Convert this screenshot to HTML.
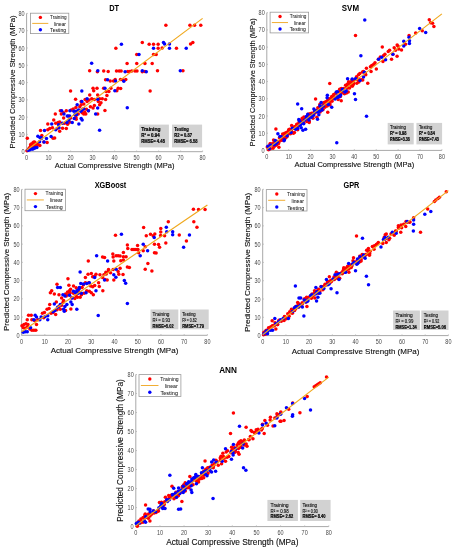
<!DOCTYPE html>
<html><head><meta charset="utf-8"><style>
html,body{margin:0;padding:0;background:#fff;width:454px;height:550px;overflow:hidden}
svg{display:block}
text{font-family:"Liberation Sans", Arial, sans-serif}
</style></head><body>
<svg width="454" height="550" viewBox="0 0 454 550">
<rect width="454" height="550" fill="#fff"/>
<g id="DT"><path d="M26.6 13.4V151.7H202.6" fill="none" stroke="#a8a8a8" stroke-width="1"/>
<path d="M26.6 151.7v-1.2M26.6 151.7h1.2M48.6 151.7v-1.2M26.6 134.41h1.2M70.6 151.7v-1.2M26.6 117.12h1.2M92.6 151.7v-1.2M26.6 99.84h1.2M114.6 151.7v-1.2M26.6 82.55h1.2M136.6 151.7v-1.2M26.6 65.26h1.2M158.6 151.7v-1.2M26.6 47.97h1.2M180.6 151.7v-1.2M26.6 30.69h1.2M202.6 151.7v-1.2M26.6 13.4h1.2" stroke="#b4b4b4" stroke-width="0.8" fill="none"/>
<g font-size="6.5" fill="#4a4a4a"><text x="25.05" y="160" textLength="3.1" lengthAdjust="spacingAndGlyphs">0</text><text x="21.4" y="154.25" textLength="3.1" lengthAdjust="spacingAndGlyphs">0</text><text x="45.55" y="160" textLength="6.1" lengthAdjust="spacingAndGlyphs">10</text><text x="18.4" y="136.96" textLength="6.1" lengthAdjust="spacingAndGlyphs">10</text><text x="67.55" y="160" textLength="6.1" lengthAdjust="spacingAndGlyphs">20</text><text x="18.4" y="119.67" textLength="6.1" lengthAdjust="spacingAndGlyphs">20</text><text x="89.55" y="160" textLength="6.1" lengthAdjust="spacingAndGlyphs">30</text><text x="18.4" y="102.39" textLength="6.1" lengthAdjust="spacingAndGlyphs">30</text><text x="111.55" y="160" textLength="6.1" lengthAdjust="spacingAndGlyphs">40</text><text x="18.4" y="85.1" textLength="6.1" lengthAdjust="spacingAndGlyphs">40</text><text x="133.55" y="160" textLength="6.1" lengthAdjust="spacingAndGlyphs">50</text><text x="18.4" y="67.81" textLength="6.1" lengthAdjust="spacingAndGlyphs">50</text><text x="155.55" y="160" textLength="6.1" lengthAdjust="spacingAndGlyphs">60</text><text x="18.4" y="50.52" textLength="6.1" lengthAdjust="spacingAndGlyphs">60</text><text x="177.55" y="160" textLength="6.1" lengthAdjust="spacingAndGlyphs">70</text><text x="18.4" y="33.24" textLength="6.1" lengthAdjust="spacingAndGlyphs">70</text><text x="199.55" y="160" textLength="6.1" lengthAdjust="spacingAndGlyphs">80</text><text x="18.4" y="15.95" textLength="6.1" lengthAdjust="spacingAndGlyphs">80</text></g>
<text x="114.6" y="168.2" font-size="7.5" text-anchor="middle" fill="#111" stroke="#111" stroke-width="0.12">Actual Compressive Strength (MPa)</text>
<text transform="translate(14.8 82) rotate(-90)" font-size="7.65" text-anchor="middle" fill="#111" stroke="#111" stroke-width="0.12">Predicted Compressive Strength (MPa)</text>
<text x="109.25" y="10.7" font-size="8.2" font-weight="bold" fill="#000" textLength="9.9" lengthAdjust="spacingAndGlyphs">DT</text>
<g fill="#ff0000"><circle cx="27.3" cy="138.15" r="1.75"/><circle cx="26.91" cy="150.7" r="1.75"/><circle cx="28.63" cy="149.65" r="1.75"/><circle cx="30.61" cy="148.33" r="1.75"/><circle cx="31.27" cy="144.1" r="1.75"/><circle cx="32.99" cy="142.78" r="1.75"/><circle cx="34.84" cy="142.25" r="1.75"/><circle cx="36.56" cy="143.7" r="1.75"/><circle cx="38.27" cy="144.63" r="1.75"/><circle cx="32.19" cy="145.68" r="1.75"/><circle cx="34.31" cy="145.42" r="1.75"/><circle cx="36.16" cy="145.95" r="1.75"/><circle cx="39.86" cy="145.42" r="1.75"/><circle cx="40.52" cy="130.48" r="1.75"/><circle cx="43.82" cy="142.11" r="1.75"/><circle cx="47.13" cy="142.38" r="1.75"/><circle cx="47.79" cy="129.82" r="1.75"/><circle cx="47.79" cy="123.88" r="1.75"/><circle cx="49.77" cy="128.5" r="1.75"/><circle cx="52.41" cy="127.84" r="1.75"/><circle cx="54.66" cy="138.02" r="1.75"/><circle cx="53.74" cy="119.91" r="1.75"/><circle cx="55.32" cy="113.96" r="1.75"/><circle cx="57.04" cy="128.5" r="1.75"/><circle cx="58.1" cy="122.56" r="1.75"/><circle cx="59.68" cy="131.15" r="1.75"/><circle cx="62.59" cy="128.24" r="1.75"/><circle cx="66.29" cy="128.5" r="1.75"/><circle cx="63.65" cy="117.93" r="1.75"/><circle cx="64.44" cy="123.22" r="1.75"/><circle cx="67.61" cy="124.27" r="1.75"/><circle cx="69.59" cy="122.16" r="1.75"/><circle cx="63.65" cy="112.64" r="1.75"/><circle cx="68.27" cy="115.95" r="1.75"/><circle cx="70.52" cy="117.93" r="1.75"/><circle cx="76.2" cy="119.25" r="1.75"/><circle cx="78.19" cy="113.96" r="1.75"/><circle cx="82.15" cy="112.64" r="1.75"/><circle cx="60.34" cy="110.66" r="1.75"/><circle cx="66.29" cy="110.66" r="1.75"/><circle cx="55.72" cy="123.22" r="1.75"/><circle cx="59.68" cy="121.89" r="1.75"/><circle cx="70.57" cy="91.12" r="1.75"/><circle cx="75.59" cy="99.19" r="1.75"/><circle cx="89.74" cy="95.09" r="1.75"/><circle cx="93.04" cy="88.22" r="1.75"/><circle cx="97" cy="88.22" r="1.75"/><circle cx="97.67" cy="95.09" r="1.75"/><circle cx="93.7" cy="90.86" r="1.75"/><circle cx="85.11" cy="99.45" r="1.75"/><circle cx="87.09" cy="101.43" r="1.75"/><circle cx="89.07" cy="100.11" r="1.75"/><circle cx="91.72" cy="98.79" r="1.75"/><circle cx="94.36" cy="99.45" r="1.75"/><circle cx="99.65" cy="98.79" r="1.75"/><circle cx="102.29" cy="98.79" r="1.75"/><circle cx="105.59" cy="99.45" r="1.75"/><circle cx="103.61" cy="88.22" r="1.75"/><circle cx="106.26" cy="91.52" r="1.75"/><circle cx="108.9" cy="91.52" r="1.75"/><circle cx="110.88" cy="88.22" r="1.75"/><circle cx="106.92" cy="95.48" r="1.75"/><circle cx="83.79" cy="104.07" r="1.75"/><circle cx="81.15" cy="104.74" r="1.75"/><circle cx="79.82" cy="106.72" r="1.75"/><circle cx="75.86" cy="107.38" r="1.75"/><circle cx="73.22" cy="109.1" r="1.75"/><circle cx="71.23" cy="110.02" r="1.75"/><circle cx="61.32" cy="113.99" r="1.75"/><circle cx="75.86" cy="117.29" r="1.75"/><circle cx="83.79" cy="113.99" r="1.75"/><circle cx="85.77" cy="113.99" r="1.75"/><circle cx="88.41" cy="110.68" r="1.75"/><circle cx="90.4" cy="106.72" r="1.75"/><circle cx="93.04" cy="108.04" r="1.75"/><circle cx="94.36" cy="105.4" r="1.75"/><circle cx="99.65" cy="104.74" r="1.75"/><circle cx="100.97" cy="102.75" r="1.75"/><circle cx="98.33" cy="101.43" r="1.75"/><circle cx="104.93" cy="110.42" r="1.75"/><circle cx="97.67" cy="113.99" r="1.75"/><circle cx="105.59" cy="79.63" r="1.75"/><circle cx="110.22" cy="80.95" r="1.75"/><circle cx="113.52" cy="80.95" r="1.75"/><circle cx="118.15" cy="88.22" r="1.75"/><circle cx="116.83" cy="90.86" r="1.75"/><circle cx="81.15" cy="101.43" r="1.75"/><circle cx="83.13" cy="109.36" r="1.75"/><circle cx="86.43" cy="109.36" r="1.75"/><circle cx="115.86" cy="48.19" r="1.75"/><circle cx="142.29" cy="42.38" r="1.75"/><circle cx="149.16" cy="44.23" r="1.75"/><circle cx="153.52" cy="44.23" r="1.75"/><circle cx="158.15" cy="44.23" r="1.75"/><circle cx="158.15" cy="48.19" r="1.75"/><circle cx="136.74" cy="54.54" r="1.75"/><circle cx="153.52" cy="54.54" r="1.75"/><circle cx="156.17" cy="54.54" r="1.75"/><circle cx="127.09" cy="63.52" r="1.75"/><circle cx="136.74" cy="63.52" r="1.75"/><circle cx="144.93" cy="63.52" r="1.75"/><circle cx="152.2" cy="63.52" r="1.75"/><circle cx="103.7" cy="71.06" r="1.75"/><circle cx="108.19" cy="71.45" r="1.75"/><circle cx="116.52" cy="71.06" r="1.75"/><circle cx="119.16" cy="71.06" r="1.75"/><circle cx="121.15" cy="71.06" r="1.75"/><circle cx="127.75" cy="71.45" r="1.75"/><circle cx="129.74" cy="71.45" r="1.75"/><circle cx="131.72" cy="71.06" r="1.75"/><circle cx="135.02" cy="71.06" r="1.75"/><circle cx="137" cy="71.06" r="1.75"/><circle cx="142.29" cy="71.72" r="1.75"/><circle cx="144.93" cy="71.45" r="1.75"/><circle cx="157.49" cy="70.66" r="1.75"/><circle cx="115.2" cy="79.38" r="1.75"/><circle cx="120.48" cy="79.38" r="1.75"/><circle cx="125.77" cy="79.38" r="1.75"/><circle cx="122.47" cy="79.65" r="1.75"/><circle cx="165.88" cy="25.2" r="1.75"/><circle cx="189.93" cy="25.2" r="1.75"/><circle cx="194.56" cy="25.2" r="1.75"/><circle cx="200.77" cy="25.2" r="1.75"/><circle cx="162.18" cy="48.06" r="1.75"/><circle cx="176.45" cy="48.33" r="1.75"/><circle cx="190.59" cy="44.1" r="1.75"/><circle cx="192.84" cy="42.38" r="1.75"/><circle cx="150.13" cy="91.12" r="1.75"/><circle cx="120.66" cy="88.48" r="1.75"/><circle cx="84.66" cy="112.27" r="1.75"/><circle cx="89.65" cy="70.86" r="1.75"/><circle cx="97.36" cy="71.63" r="1.75"/><circle cx="182.95" cy="70.68" r="1.75"/><circle cx="28.96" cy="148.46" r="1.75"/><circle cx="29.95" cy="147.14" r="1.75"/><circle cx="30.94" cy="145.81" r="1.75"/><circle cx="33.91" cy="142.05" r="1.75"/><circle cx="30.61" cy="144.82" r="1.75"/><circle cx="35.56" cy="144.49" r="1.75"/><circle cx="37.22" cy="144.82" r="1.75"/><circle cx="31.6" cy="146.81" r="1.75"/><circle cx="33.25" cy="146.48" r="1.75"/><circle cx="34.9" cy="146.15" r="1.75"/><circle cx="41.84" cy="135.57" r="1.75"/><circle cx="53.07" cy="138.22" r="1.75"/></g>
<g fill="#0000ff"><circle cx="28.23" cy="150.31" r="1.75"/><circle cx="29.95" cy="149.65" r="1.75"/><circle cx="31.93" cy="149.12" r="1.75"/><circle cx="35.23" cy="147.67" r="1.75"/><circle cx="37.88" cy="136.17" r="1.75"/><circle cx="39.59" cy="141.72" r="1.75"/><circle cx="41.18" cy="137.75" r="1.75"/><circle cx="44.48" cy="130.48" r="1.75"/><circle cx="44.09" cy="141.98" r="1.75"/><circle cx="46.47" cy="138.41" r="1.75"/><circle cx="51.09" cy="136.43" r="1.75"/><circle cx="51.75" cy="123.88" r="1.75"/><circle cx="55.72" cy="129.82" r="1.75"/><circle cx="59.02" cy="127.84" r="1.75"/><circle cx="58.63" cy="124.8" r="1.75"/><circle cx="62.33" cy="123.22" r="1.75"/><circle cx="66.95" cy="122.56" r="1.75"/><circle cx="69.59" cy="115.95" r="1.75"/><circle cx="68.93" cy="119.91" r="1.75"/><circle cx="72.24" cy="122.56" r="1.75"/><circle cx="74.22" cy="118.59" r="1.75"/><circle cx="74.88" cy="114.63" r="1.75"/><circle cx="78.85" cy="123.88" r="1.75"/><circle cx="82.15" cy="119.91" r="1.75"/><circle cx="76.2" cy="111.32" r="1.75"/><circle cx="80.83" cy="111.32" r="1.75"/><circle cx="61.67" cy="110.66" r="1.75"/><circle cx="81.81" cy="91.12" r="1.75"/><circle cx="77.18" cy="104.74" r="1.75"/><circle cx="81.81" cy="101.43" r="1.75"/><circle cx="87.09" cy="98.79" r="1.75"/><circle cx="97.67" cy="99.19" r="1.75"/><circle cx="83.79" cy="108.7" r="1.75"/><circle cx="81.81" cy="110.02" r="1.75"/><circle cx="78.5" cy="110.02" r="1.75"/><circle cx="73.88" cy="111.34" r="1.75"/><circle cx="69.91" cy="110.68" r="1.75"/><circle cx="63.96" cy="113.99" r="1.75"/><circle cx="67.27" cy="115.97" r="1.75"/><circle cx="76.52" cy="114.65" r="1.75"/><circle cx="88.41" cy="110.68" r="1.75"/><circle cx="97.67" cy="108.04" r="1.75"/><circle cx="95.68" cy="113.99" r="1.75"/><circle cx="104.93" cy="88.22" r="1.75"/><circle cx="107.58" cy="79.63" r="1.75"/><circle cx="114.85" cy="90.86" r="1.75"/><circle cx="115.51" cy="80.95" r="1.75"/><circle cx="81.15" cy="118.61" r="1.75"/><circle cx="121.41" cy="44.23" r="1.75"/><circle cx="153.52" cy="48.19" r="1.75"/><circle cx="138.99" cy="54.54" r="1.75"/><circle cx="125.11" cy="71.72" r="1.75"/><circle cx="142.29" cy="70.66" r="1.75"/><circle cx="146.26" cy="71.72" r="1.75"/><circle cx="123.79" cy="81.23" r="1.75"/><circle cx="163.5" cy="42.38" r="1.75"/><circle cx="164.56" cy="44.1" r="1.75"/><circle cx="169.45" cy="44.1" r="1.75"/><circle cx="169.45" cy="48.33" r="1.75"/><circle cx="186.23" cy="48.33" r="1.75"/><circle cx="127.27" cy="107.78" r="1.75"/><circle cx="99.59" cy="130.37" r="1.75"/><circle cx="91.65" cy="63.15" r="1.75"/><circle cx="97.82" cy="70.86" r="1.75"/><circle cx="180.29" cy="70.68" r="1.75"/><circle cx="32.92" cy="149.12" r="1.75"/><circle cx="34.24" cy="148.26" r="1.75"/><circle cx="36.89" cy="147.47" r="1.75"/><circle cx="39.86" cy="137.56" r="1.75"/><circle cx="41.31" cy="138.55" r="1.75"/></g>
<line x1="26.6" y1="150.32" x2="202.6" y2="18.41" stroke="#f0a81c" stroke-width="1.15"/>
<rect x="30.5" y="13.2" width="38.3" height="20.4" fill="#fff" stroke="#9a9a9a" stroke-width="0.8"/>
<circle cx="40.38" cy="17.38" r="1.7" fill="#ff0000"/>
<line x1="32.22" x2="48.31" y1="23.4" y2="23.4" stroke="#f0aa28" stroke-width="0.95"/>
<circle cx="40.38" cy="29.72" r="1.7" fill="#0000ff"/>
<g font-size="5.7" fill="#1a1a1a" stroke="#1a1a1a" stroke-width="0.05" text-anchor="end"><text x="66.69" y="19.12" textLength="16.7" lengthAdjust="spacingAndGlyphs">Training</text><text x="65.93" y="25.54" textLength="11.68" lengthAdjust="spacingAndGlyphs">linear</text><text x="66.12" y="32.17" textLength="16.01" lengthAdjust="spacingAndGlyphs">Testing</text></g>
<rect x="139.3" y="124.6" width="29.6" height="22.8" fill="#d2d2d2"/>
<g font-size="5.0" fill="#000"><text x="141.2" y="130.6" font-weight="bold" stroke="#000" stroke-width="0.2" textLength="19.3" lengthAdjust="spacingAndGlyphs">Training</text><text x="141.2" y="137.1" font-weight="bold" stroke="#000" stroke-width="0.2" textLength="18.5" lengthAdjust="spacingAndGlyphs">R² = 0.94</text><text x="141.2" y="143.3" font-weight="bold" stroke="#000" stroke-width="0.2" textLength="23.8" lengthAdjust="spacingAndGlyphs">RMSE= 4.45</text></g>
<rect x="172" y="124.6" width="30.1" height="22.8" fill="#d2d2d2"/>
<g font-size="5.0" fill="#000"><text x="174.3" y="130.6" font-weight="bold" stroke="#000" stroke-width="0.2" textLength="14.6" lengthAdjust="spacingAndGlyphs">Testing</text><text x="174.3" y="137.1" font-weight="bold" stroke="#000" stroke-width="0.2" textLength="17.7" lengthAdjust="spacingAndGlyphs">R2 = 0.87</text><text x="174.3" y="143.3" font-weight="bold" stroke="#000" stroke-width="0.2" textLength="23.2" lengthAdjust="spacingAndGlyphs">RMSE= 6.58</text></g></g>
<g id="SVM"><path d="M266.8 12.7V150.4H441.9" fill="none" stroke="#a8a8a8" stroke-width="1"/>
<path d="M266.8 150.4v-1.2M266.8 150.4h1.2M288.69 150.4v-1.2M266.8 133.19h1.2M310.57 150.4v-1.2M266.8 115.97h1.2M332.46 150.4v-1.2M266.8 98.76h1.2M354.35 150.4v-1.2M266.8 81.55h1.2M376.24 150.4v-1.2M266.8 64.34h1.2M398.12 150.4v-1.2M266.8 47.12h1.2M420.01 150.4v-1.2M266.8 29.91h1.2M441.9 150.4v-1.2M266.8 12.7h1.2" stroke="#b4b4b4" stroke-width="0.8" fill="none"/>
<g font-size="6.5" fill="#4a4a4a"><text x="265.25" y="158.7" textLength="3.1" lengthAdjust="spacingAndGlyphs">0</text><text x="261.6" y="152.95" textLength="3.1" lengthAdjust="spacingAndGlyphs">0</text><text x="285.64" y="158.7" textLength="6.1" lengthAdjust="spacingAndGlyphs">10</text><text x="258.6" y="135.74" textLength="6.1" lengthAdjust="spacingAndGlyphs">10</text><text x="307.52" y="158.7" textLength="6.1" lengthAdjust="spacingAndGlyphs">20</text><text x="258.6" y="118.52" textLength="6.1" lengthAdjust="spacingAndGlyphs">20</text><text x="329.41" y="158.7" textLength="6.1" lengthAdjust="spacingAndGlyphs">30</text><text x="258.6" y="101.31" textLength="6.1" lengthAdjust="spacingAndGlyphs">30</text><text x="351.3" y="158.7" textLength="6.1" lengthAdjust="spacingAndGlyphs">40</text><text x="258.6" y="84.1" textLength="6.1" lengthAdjust="spacingAndGlyphs">40</text><text x="373.19" y="158.7" textLength="6.1" lengthAdjust="spacingAndGlyphs">50</text><text x="258.6" y="66.89" textLength="6.1" lengthAdjust="spacingAndGlyphs">50</text><text x="395.07" y="158.7" textLength="6.1" lengthAdjust="spacingAndGlyphs">60</text><text x="258.6" y="49.67" textLength="6.1" lengthAdjust="spacingAndGlyphs">60</text><text x="416.96" y="158.7" textLength="6.1" lengthAdjust="spacingAndGlyphs">70</text><text x="258.6" y="32.46" textLength="6.1" lengthAdjust="spacingAndGlyphs">70</text><text x="438.85" y="158.7" textLength="6.1" lengthAdjust="spacingAndGlyphs">80</text><text x="258.6" y="15.25" textLength="6.1" lengthAdjust="spacingAndGlyphs">80</text></g>
<text x="354.35" y="166.9" font-size="7.5" text-anchor="middle" fill="#111" stroke="#111" stroke-width="0.12">Actual Compressive Strength (MPa)</text>
<text transform="translate(255.2 82.3) rotate(-90)" font-size="7.35" text-anchor="middle" fill="#111" stroke="#111" stroke-width="0.12">Predicted Compressive Strength (MPa)</text>
<text x="341.8" y="11.2" font-size="8.2" font-weight="bold" fill="#000" textLength="17.2" lengthAdjust="spacingAndGlyphs">SVM</text>
<g fill="#ff0000"><circle cx="320.11" cy="112.1" r="1.75"/><circle cx="363.42" cy="71.49" r="1.75"/><circle cx="352.24" cy="81.66" r="1.75"/><circle cx="289.79" cy="129.38" r="1.75"/><circle cx="331.51" cy="100.3" r="1.75"/><circle cx="312.96" cy="118.35" r="1.75"/><circle cx="339.24" cy="91.98" r="1.75"/><circle cx="284.67" cy="133.29" r="1.75"/><circle cx="351.82" cy="86.06" r="1.75"/><circle cx="358.87" cy="80.96" r="1.75"/><circle cx="349.95" cy="83.7" r="1.75"/><circle cx="347.09" cy="84.89" r="1.75"/><circle cx="329.35" cy="100.99" r="1.75"/><circle cx="290.04" cy="130.08" r="1.75"/><circle cx="302.13" cy="120.98" r="1.75"/><circle cx="303.94" cy="122.89" r="1.75"/><circle cx="308.19" cy="114.25" r="1.75"/><circle cx="327.29" cy="100.99" r="1.75"/><circle cx="312.32" cy="115.22" r="1.75"/><circle cx="272.98" cy="148.32" r="1.75"/><circle cx="352.3" cy="81.55" r="1.75"/><circle cx="352.54" cy="85.9" r="1.75"/><circle cx="268.18" cy="147.33" r="1.75"/><circle cx="287.11" cy="134.17" r="1.75"/><circle cx="291.65" cy="125.46" r="1.75"/><circle cx="322.88" cy="109.44" r="1.75"/><circle cx="356.54" cy="79.25" r="1.75"/><circle cx="297.98" cy="125.82" r="1.75"/><circle cx="276.84" cy="143.9" r="1.75"/><circle cx="309.79" cy="116.02" r="1.75"/><circle cx="346.85" cy="86.14" r="1.75"/><circle cx="338.17" cy="99.43" r="1.75"/><circle cx="288.39" cy="131.49" r="1.75"/><circle cx="273.56" cy="140.02" r="1.75"/><circle cx="282.68" cy="133.91" r="1.75"/><circle cx="365.27" cy="73.12" r="1.75"/><circle cx="279.25" cy="141.45" r="1.75"/><circle cx="292.99" cy="127.22" r="1.75"/><circle cx="309.14" cy="117.5" r="1.75"/><circle cx="340.42" cy="96.59" r="1.75"/><circle cx="357.17" cy="78.81" r="1.75"/><circle cx="282.49" cy="138.15" r="1.75"/><circle cx="353.24" cy="82.19" r="1.75"/><circle cx="293.39" cy="133.34" r="1.75"/><circle cx="292.85" cy="127.31" r="1.75"/><circle cx="286.45" cy="132.52" r="1.75"/><circle cx="298.77" cy="125.85" r="1.75"/><circle cx="350.22" cy="84.51" r="1.75"/><circle cx="327.15" cy="105.88" r="1.75"/><circle cx="341.22" cy="90.14" r="1.75"/><circle cx="355.17" cy="79.23" r="1.75"/><circle cx="321.56" cy="110.23" r="1.75"/><circle cx="302.04" cy="122.37" r="1.75"/><circle cx="309.89" cy="116.3" r="1.75"/><circle cx="288.85" cy="129.5" r="1.75"/><circle cx="279.44" cy="137.75" r="1.75"/><circle cx="291.18" cy="130.97" r="1.75"/><circle cx="300.39" cy="122.92" r="1.75"/><circle cx="324.71" cy="104.32" r="1.75"/><circle cx="282.42" cy="139.57" r="1.75"/><circle cx="324.4" cy="102.47" r="1.75"/><circle cx="313.81" cy="113.21" r="1.75"/><circle cx="309.07" cy="117.06" r="1.75"/><circle cx="344.46" cy="93.78" r="1.75"/><circle cx="347.62" cy="87.89" r="1.75"/><circle cx="339.64" cy="96.57" r="1.75"/><circle cx="331.98" cy="101.16" r="1.75"/><circle cx="342.71" cy="89.56" r="1.75"/><circle cx="281.71" cy="140.21" r="1.75"/><circle cx="311.7" cy="116.08" r="1.75"/><circle cx="340.52" cy="91.86" r="1.75"/><circle cx="340.55" cy="89.84" r="1.75"/><circle cx="283.14" cy="138.84" r="1.75"/><circle cx="291.12" cy="131.33" r="1.75"/><circle cx="274.35" cy="142.24" r="1.75"/><circle cx="306.16" cy="118.83" r="1.75"/><circle cx="281.47" cy="136.84" r="1.75"/><circle cx="362.72" cy="79.92" r="1.75"/><circle cx="340.88" cy="93.78" r="1.75"/><circle cx="288.66" cy="133.77" r="1.75"/><circle cx="289.97" cy="129.15" r="1.75"/><circle cx="295.41" cy="128.44" r="1.75"/><circle cx="313.1" cy="115" r="1.75"/><circle cx="285.11" cy="135.11" r="1.75"/><circle cx="323.6" cy="102.84" r="1.75"/><circle cx="342.28" cy="91.37" r="1.75"/><circle cx="299.24" cy="123.81" r="1.75"/><circle cx="340.65" cy="90.94" r="1.75"/><circle cx="348.64" cy="81.67" r="1.75"/><circle cx="297.7" cy="129.63" r="1.75"/><circle cx="278.92" cy="147.31" r="1.75"/><circle cx="270.65" cy="143.82" r="1.75"/><circle cx="306.88" cy="121.47" r="1.75"/><circle cx="332.03" cy="98.44" r="1.75"/><circle cx="274.24" cy="142.35" r="1.75"/><circle cx="319.93" cy="104.21" r="1.75"/><circle cx="324.91" cy="107.28" r="1.75"/><circle cx="311.83" cy="116.73" r="1.75"/><circle cx="334.22" cy="97.34" r="1.75"/><circle cx="329.79" cy="103.56" r="1.75"/><circle cx="329.92" cy="104.99" r="1.75"/><circle cx="302.17" cy="118.24" r="1.75"/><circle cx="316.99" cy="111.83" r="1.75"/><circle cx="270.32" cy="148.67" r="1.75"/><circle cx="308.84" cy="118.46" r="1.75"/><circle cx="272.41" cy="145.01" r="1.75"/><circle cx="346.72" cy="88.11" r="1.75"/><circle cx="284.45" cy="135.4" r="1.75"/><circle cx="342.1" cy="92.28" r="1.75"/><circle cx="293.72" cy="127.99" r="1.75"/><circle cx="327.87" cy="98.69" r="1.75"/><circle cx="274.32" cy="144.76" r="1.75"/><circle cx="315.07" cy="112.93" r="1.75"/><circle cx="307.41" cy="116.93" r="1.75"/><circle cx="351.21" cy="84.98" r="1.75"/><circle cx="337.68" cy="97.5" r="1.75"/><circle cx="270.05" cy="143.79" r="1.75"/><circle cx="301.88" cy="122.85" r="1.75"/><circle cx="320.03" cy="107.02" r="1.75"/><circle cx="268.56" cy="149.83" r="1.75"/><circle cx="332.84" cy="98.44" r="1.75"/><circle cx="318.88" cy="108.02" r="1.75"/><circle cx="309.19" cy="122.52" r="1.75"/><circle cx="353.24" cy="84.22" r="1.75"/><circle cx="318.35" cy="111.92" r="1.75"/><circle cx="346.48" cy="93.1" r="1.75"/><circle cx="329.74" cy="100.17" r="1.75"/><circle cx="309.25" cy="121.17" r="1.75"/><circle cx="322.84" cy="109.4" r="1.75"/><circle cx="329.95" cy="98.87" r="1.75"/><circle cx="326.82" cy="105.58" r="1.75"/><circle cx="303.92" cy="117.05" r="1.75"/><circle cx="276.85" cy="141.32" r="1.75"/><circle cx="296.88" cy="124.23" r="1.75"/><circle cx="352.7" cy="80.13" r="1.75"/><circle cx="275.89" cy="128.88" r="1.75"/><circle cx="267.3" cy="146.99" r="1.75"/><circle cx="269.29" cy="145.67" r="1.75"/><circle cx="271.27" cy="144.34" r="1.75"/><circle cx="273.25" cy="143.68" r="1.75"/><circle cx="274.57" cy="146.33" r="1.75"/><circle cx="276.56" cy="145" r="1.75"/><circle cx="278.54" cy="143.42" r="1.75"/><circle cx="281.84" cy="139.72" r="1.75"/><circle cx="283.82" cy="139.06" r="1.75"/><circle cx="285.81" cy="137.74" r="1.75"/><circle cx="287.13" cy="136.41" r="1.75"/><circle cx="288.45" cy="130.73" r="1.75"/><circle cx="289.77" cy="129.81" r="1.75"/><circle cx="291.75" cy="129.15" r="1.75"/><circle cx="293.74" cy="127.82" r="1.75"/><circle cx="295.06" cy="126.5" r="1.75"/><circle cx="297.04" cy="124.52" r="1.75"/><circle cx="299.02" cy="122.54" r="1.75"/><circle cx="301" cy="121.22" r="1.75"/><circle cx="302.99" cy="119.89" r="1.75"/><circle cx="304.97" cy="118.84" r="1.75"/><circle cx="307.61" cy="117.25" r="1.75"/><circle cx="309.59" cy="115.27" r="1.75"/><circle cx="311.58" cy="113.29" r="1.75"/><circle cx="314.22" cy="111.96" r="1.75"/><circle cx="316.2" cy="110.64" r="1.75"/><circle cx="318.19" cy="109.32" r="1.75"/><circle cx="316.86" cy="117.25" r="1.75"/><circle cx="294.4" cy="132.45" r="1.75"/><circle cx="290.43" cy="133.77" r="1.75"/><circle cx="329.74" cy="83.55" r="1.75"/><circle cx="315.59" cy="98.88" r="1.75"/><circle cx="341.23" cy="100.73" r="1.75"/><circle cx="327.75" cy="112.36" r="1.75"/><circle cx="309.91" cy="113.68" r="1.75"/><circle cx="317.84" cy="107.74" r="1.75"/><circle cx="323.79" cy="104.43" r="1.75"/><circle cx="325.77" cy="101.79" r="1.75"/><circle cx="329.74" cy="99.15" r="1.75"/><circle cx="331.72" cy="96.5" r="1.75"/><circle cx="333.04" cy="97.82" r="1.75"/><circle cx="333.7" cy="94.52" r="1.75"/><circle cx="335.68" cy="93.2" r="1.75"/><circle cx="339.65" cy="89.23" r="1.75"/><circle cx="343.61" cy="88.57" r="1.75"/><circle cx="345.59" cy="85.27" r="1.75"/><circle cx="347.58" cy="83.95" r="1.75"/><circle cx="349.56" cy="87.91" r="1.75"/><circle cx="351.54" cy="81.96" r="1.75"/><circle cx="353.52" cy="83.95" r="1.75"/><circle cx="356.83" cy="83.29" r="1.75"/><circle cx="358.81" cy="81.96" r="1.75"/><circle cx="348.24" cy="91.88" r="1.75"/><circle cx="341.32" cy="88.61" r="1.75"/><circle cx="349.25" cy="82.67" r="1.75"/><circle cx="351.89" cy="80.02" r="1.75"/><circle cx="353.22" cy="81.34" r="1.75"/><circle cx="356.52" cy="76.72" r="1.75"/><circle cx="358.5" cy="74.74" r="1.75"/><circle cx="359.16" cy="79.36" r="1.75"/><circle cx="359.82" cy="73.41" r="1.75"/><circle cx="361.81" cy="79.63" r="1.75"/><circle cx="362.47" cy="72.09" r="1.75"/><circle cx="365.77" cy="74.74" r="1.75"/><circle cx="366.43" cy="68.13" r="1.75"/><circle cx="367.75" cy="83.33" r="1.75"/><circle cx="370.4" cy="66.81" r="1.75"/><circle cx="371.06" cy="71.43" r="1.75"/><circle cx="371.72" cy="65.48" r="1.75"/><circle cx="373.7" cy="64.16" r="1.75"/><circle cx="375.02" cy="62.84" r="1.75"/><circle cx="376.34" cy="69.05" r="1.75"/><circle cx="378.33" cy="59.27" r="1.75"/><circle cx="380.31" cy="56.89" r="1.75"/><circle cx="382.29" cy="46.98" r="1.75"/><circle cx="382.95" cy="61.52" r="1.75"/><circle cx="383.61" cy="55.57" r="1.75"/><circle cx="384.93" cy="54.25" r="1.75"/><circle cx="388.24" cy="51.61" r="1.75"/><circle cx="389.56" cy="50.29" r="1.75"/><circle cx="391.54" cy="59.27" r="1.75"/><circle cx="392.86" cy="54.25" r="1.75"/><circle cx="394.19" cy="47.64" r="1.75"/><circle cx="395.51" cy="50.29" r="1.75"/><circle cx="397.09" cy="56.23" r="1.75"/><circle cx="398.15" cy="46.32" r="1.75"/><circle cx="398.81" cy="48.96" r="1.75"/><circle cx="429.27" cy="19.63" r="1.75"/><circle cx="430.59" cy="22.8" r="1.75"/><circle cx="432.58" cy="23.2" r="1.75"/><circle cx="433.9" cy="26.5" r="1.75"/><circle cx="422.27" cy="30.73" r="1.75"/><circle cx="415.66" cy="33.11" r="1.75"/><circle cx="409.05" cy="35.49" r="1.75"/><circle cx="405.48" cy="44.34" r="1.75"/><circle cx="397.16" cy="45" r="1.75"/><circle cx="401.52" cy="50.03" r="1.75"/><circle cx="355.51" cy="35.44" r="1.75"/></g>
<g fill="#0000ff"><circle cx="321.09" cy="106.88" r="1.75"/><circle cx="314.81" cy="111.88" r="1.75"/><circle cx="274.28" cy="144.8" r="1.75"/><circle cx="317.69" cy="111.63" r="1.75"/><circle cx="338.13" cy="96.05" r="1.75"/><circle cx="269.35" cy="148.79" r="1.75"/><circle cx="337.53" cy="91.84" r="1.75"/><circle cx="342.45" cy="89.25" r="1.75"/><circle cx="323.37" cy="105.97" r="1.75"/><circle cx="318.84" cy="114.73" r="1.75"/><circle cx="340.65" cy="94.99" r="1.75"/><circle cx="321.51" cy="107.39" r="1.75"/><circle cx="284.03" cy="140.64" r="1.75"/><circle cx="299.46" cy="121.1" r="1.75"/><circle cx="346.21" cy="90.94" r="1.75"/><circle cx="301.18" cy="127.79" r="1.75"/><circle cx="307.77" cy="114.24" r="1.75"/><circle cx="364.36" cy="72.19" r="1.75"/><circle cx="337.18" cy="95.96" r="1.75"/><circle cx="300.63" cy="124.56" r="1.75"/><circle cx="359.99" cy="80.5" r="1.75"/><circle cx="292.35" cy="128.33" r="1.75"/><circle cx="302.91" cy="130.21" r="1.75"/><circle cx="306.6" cy="118.06" r="1.75"/><circle cx="304.8" cy="120.06" r="1.75"/><circle cx="281.3" cy="136.81" r="1.75"/><circle cx="342.37" cy="90.4" r="1.75"/><circle cx="317.25" cy="111.58" r="1.75"/><circle cx="277.09" cy="142.19" r="1.75"/><circle cx="352.18" cy="78.96" r="1.75"/><circle cx="337.48" cy="97.41" r="1.75"/><circle cx="335.12" cy="98.93" r="1.75"/><circle cx="327.36" cy="95.23" r="1.75"/><circle cx="318.46" cy="110.63" r="1.75"/><circle cx="298.77" cy="119.46" r="1.75"/><circle cx="301.67" cy="108.66" r="1.75"/><circle cx="277.88" cy="133.77" r="1.75"/><circle cx="279.86" cy="136.41" r="1.75"/><circle cx="284.48" cy="139.72" r="1.75"/><circle cx="287.13" cy="135.75" r="1.75"/><circle cx="291.09" cy="132.45" r="1.75"/><circle cx="295.72" cy="129.15" r="1.75"/><circle cx="297.7" cy="128.48" r="1.75"/><circle cx="299.42" cy="120.56" r="1.75"/><circle cx="303.65" cy="123.86" r="1.75"/><circle cx="305.63" cy="129.15" r="1.75"/><circle cx="306.29" cy="116.59" r="1.75"/><circle cx="308.93" cy="119.89" r="1.75"/><circle cx="311.58" cy="117.25" r="1.75"/><circle cx="313.56" cy="115.27" r="1.75"/><circle cx="314.88" cy="110.64" r="1.75"/><circle cx="317.52" cy="119.23" r="1.75"/><circle cx="319.51" cy="111.3" r="1.75"/><circle cx="322.15" cy="109.98" r="1.75"/><circle cx="267.96" cy="146.33" r="1.75"/><circle cx="270.61" cy="145" r="1.75"/><circle cx="275.89" cy="143.68" r="1.75"/><circle cx="275.23" cy="140.38" r="1.75"/><circle cx="299.68" cy="125.18" r="1.75"/><circle cx="302.33" cy="122.54" r="1.75"/><circle cx="331.72" cy="107.34" r="1.75"/><circle cx="354.45" cy="93.86" r="1.75"/><circle cx="355.51" cy="99.41" r="1.75"/><circle cx="347.58" cy="78.66" r="1.75"/><circle cx="308.59" cy="118.31" r="1.75"/><circle cx="311.89" cy="115" r="1.75"/><circle cx="313.88" cy="109.06" r="1.75"/><circle cx="317.18" cy="111.04" r="1.75"/><circle cx="319.82" cy="105.75" r="1.75"/><circle cx="321.15" cy="102.45" r="1.75"/><circle cx="327.09" cy="97.82" r="1.75"/><circle cx="328.41" cy="104.43" r="1.75"/><circle cx="336.34" cy="91.88" r="1.75"/><circle cx="339.65" cy="96.5" r="1.75"/><circle cx="344.93" cy="91.88" r="1.75"/><circle cx="355.51" cy="78.66" r="1.75"/><circle cx="360.88" cy="55.84" r="1.75"/><circle cx="363.52" cy="76.98" r="1.75"/><circle cx="378.59" cy="59.27" r="1.75"/><circle cx="381.63" cy="57.16" r="1.75"/><circle cx="385.59" cy="59.8" r="1.75"/><circle cx="392.86" cy="54.25" r="1.75"/><circle cx="419.63" cy="28.48" r="1.75"/><circle cx="425.7" cy="32.45" r="1.75"/><circle cx="409.05" cy="37.34" r="1.75"/><circle cx="403.77" cy="41.3" r="1.75"/><circle cx="409.45" cy="40.78" r="1.75"/><circle cx="409.45" cy="43.42" r="1.75"/><circle cx="403.77" cy="46.06" r="1.75"/><circle cx="364.76" cy="20.02" r="1.75"/><circle cx="366.52" cy="116.15" r="1.75"/><circle cx="336.78" cy="142.84" r="1.75"/><circle cx="297.66" cy="103.88" r="1.75"/></g>
<line x1="266.8" y1="149.37" x2="441.9" y2="13.9" stroke="#f0a81c" stroke-width="1.15"/>
<rect x="270.1" y="12.2" width="38.5" height="20.7" fill="#fff" stroke="#9a9a9a" stroke-width="0.8"/>
<circle cx="280.03" cy="16.44" r="1.7" fill="#ff0000"/>
<line x1="271.83" x2="288" y1="22.55" y2="22.55" stroke="#f0aa28" stroke-width="0.95"/>
<circle cx="280.03" cy="28.97" r="1.7" fill="#0000ff"/>
<g font-size="5.78" fill="#1a1a1a" stroke="#1a1a1a" stroke-width="0.05" text-anchor="end"><text x="306.48" y="18.2" textLength="16.79" lengthAdjust="spacingAndGlyphs">Training</text><text x="305.71" y="24.72" textLength="11.74" lengthAdjust="spacingAndGlyphs">linear</text><text x="305.91" y="31.45" textLength="16.09" lengthAdjust="spacingAndGlyphs">Testing</text></g>
<rect x="387.7" y="122.9" width="26" height="21.5" fill="#d2d2d2"/>
<g font-size="4.7" fill="#000"><text x="390" y="129.39" font-weight="normal" stroke="#222" stroke-width="0.12" textLength="15.9" lengthAdjust="spacingAndGlyphs">Training</text><text x="390" y="135.29" font-weight="bold" stroke="#000" stroke-width="0.2" textLength="16.5" lengthAdjust="spacingAndGlyphs">R² = 0.98</text><text x="390" y="140.59" font-weight="bold" stroke="#000" stroke-width="0.2" textLength="19.8" lengthAdjust="spacingAndGlyphs">RMSE=3.38</text></g>
<rect x="416.4" y="122.9" width="25.7" height="21.5" fill="#d2d2d2"/>
<g font-size="4.7" fill="#000"><text x="419" y="129.39" font-weight="normal" stroke="#222" stroke-width="0.12" textLength="13.2" lengthAdjust="spacingAndGlyphs">Testing</text><text x="419" y="135.29" font-weight="bold" stroke="#000" stroke-width="0.2" textLength="15.9" lengthAdjust="spacingAndGlyphs">R² = 0.84</text><text x="419" y="140.59" font-weight="bold" stroke="#000" stroke-width="0.2" textLength="19.8" lengthAdjust="spacingAndGlyphs">RMSE=7.43</text></g></g>
<g id="XGB"><path d="M21.6 189.4V335.3H207.4" fill="none" stroke="#a8a8a8" stroke-width="1"/>
<path d="M21.6 335.3v-1.2M21.6 335.3h1.2M44.83 335.3v-1.2M21.6 317.06h1.2M68.05 335.3v-1.2M21.6 298.82h1.2M91.28 335.3v-1.2M21.6 280.59h1.2M114.5 335.3v-1.2M21.6 262.35h1.2M137.73 335.3v-1.2M21.6 244.11h1.2M160.95 335.3v-1.2M21.6 225.88h1.2M184.18 335.3v-1.2M21.6 207.64h1.2M207.4 335.3v-1.2M21.6 189.4h1.2" stroke="#b4b4b4" stroke-width="0.8" fill="none"/>
<g font-size="6.5" fill="#4a4a4a"><text x="20.05" y="343.6" textLength="3.1" lengthAdjust="spacingAndGlyphs">0</text><text x="16.4" y="337.85" textLength="3.1" lengthAdjust="spacingAndGlyphs">0</text><text x="41.78" y="343.6" textLength="6.1" lengthAdjust="spacingAndGlyphs">10</text><text x="13.4" y="319.61" textLength="6.1" lengthAdjust="spacingAndGlyphs">10</text><text x="65" y="343.6" textLength="6.1" lengthAdjust="spacingAndGlyphs">20</text><text x="13.4" y="301.38" textLength="6.1" lengthAdjust="spacingAndGlyphs">20</text><text x="88.23" y="343.6" textLength="6.1" lengthAdjust="spacingAndGlyphs">30</text><text x="13.4" y="283.14" textLength="6.1" lengthAdjust="spacingAndGlyphs">30</text><text x="111.45" y="343.6" textLength="6.1" lengthAdjust="spacingAndGlyphs">40</text><text x="13.4" y="264.9" textLength="6.1" lengthAdjust="spacingAndGlyphs">40</text><text x="134.68" y="343.6" textLength="6.1" lengthAdjust="spacingAndGlyphs">50</text><text x="13.4" y="246.66" textLength="6.1" lengthAdjust="spacingAndGlyphs">50</text><text x="157.9" y="343.6" textLength="6.1" lengthAdjust="spacingAndGlyphs">60</text><text x="13.4" y="228.43" textLength="6.1" lengthAdjust="spacingAndGlyphs">60</text><text x="181.12" y="343.6" textLength="6.1" lengthAdjust="spacingAndGlyphs">70</text><text x="13.4" y="210.19" textLength="6.1" lengthAdjust="spacingAndGlyphs">70</text><text x="204.35" y="343.6" textLength="6.1" lengthAdjust="spacingAndGlyphs">80</text><text x="13.4" y="191.95" textLength="6.1" lengthAdjust="spacingAndGlyphs">80</text></g>
<text x="114.5" y="353" font-size="8.0" text-anchor="middle" fill="#111" stroke="#111" stroke-width="0.12">Actual Compressive Strength (MPa)</text>
<text transform="translate(9 261.9) rotate(-90)" font-size="7.95" text-anchor="middle" fill="#111" stroke="#111" stroke-width="0.12">Predicted Compressive Strength (MPa)</text>
<text x="94.65" y="187.8" font-size="8.2" font-weight="bold" fill="#000" textLength="31.7" lengthAdjust="spacingAndGlyphs">XGBoost</text>
<g fill="#ff0000"><circle cx="21.96" cy="325.7" r="1.75"/><circle cx="23.95" cy="324.38" r="1.75"/><circle cx="25.93" cy="323.72" r="1.75"/><circle cx="27.91" cy="324.38" r="1.75"/><circle cx="23.29" cy="327.68" r="1.75"/><circle cx="25.27" cy="328.34" r="1.75"/><circle cx="27.25" cy="327.02" r="1.75"/><circle cx="29.89" cy="329" r="1.75"/><circle cx="31.88" cy="330.33" r="1.75"/><circle cx="33.86" cy="330.33" r="1.75"/><circle cx="35.84" cy="330.33" r="1.75"/><circle cx="28.57" cy="315.13" r="1.75"/><circle cx="31.22" cy="315.13" r="1.75"/><circle cx="27.25" cy="319.75" r="1.75"/><circle cx="31.88" cy="319.75" r="1.75"/><circle cx="34.52" cy="320.41" r="1.75"/><circle cx="36.5" cy="324.38" r="1.75"/><circle cx="37.82" cy="319.75" r="1.75"/><circle cx="42.45" cy="313.15" r="1.75"/><circle cx="44.43" cy="312.48" r="1.75"/><circle cx="43.77" cy="317.77" r="1.75"/><circle cx="47.07" cy="309.18" r="1.75"/><circle cx="49.06" cy="308.52" r="1.75"/><circle cx="49.72" cy="304.56" r="1.75"/><circle cx="51.04" cy="313.15" r="1.75"/><circle cx="53.02" cy="312.48" r="1.75"/><circle cx="55.67" cy="314.47" r="1.75"/><circle cx="56.99" cy="309.84" r="1.75"/><circle cx="56.33" cy="301.91" r="1.75"/><circle cx="58.97" cy="306.54" r="1.75"/><circle cx="60.29" cy="309.18" r="1.75"/><circle cx="61.61" cy="305.22" r="1.75"/><circle cx="62.93" cy="302.57" r="1.75"/><circle cx="63.59" cy="300.59" r="1.75"/><circle cx="65.58" cy="310.5" r="1.75"/><circle cx="70.86" cy="308.92" r="1.75"/><circle cx="50.38" cy="292.66" r="1.75"/><circle cx="54.34" cy="293.98" r="1.75"/><circle cx="58.97" cy="294.64" r="1.75"/><circle cx="61.61" cy="297.95" r="1.75"/><circle cx="66.24" cy="295.96" r="1.75"/><circle cx="68.22" cy="294.64" r="1.75"/><circle cx="71.52" cy="297.95" r="1.75"/><circle cx="74.83" cy="298.61" r="1.75"/><circle cx="76.15" cy="295.96" r="1.75"/><circle cx="73.51" cy="293.32" r="1.75"/><circle cx="70.2" cy="292.66" r="1.75"/><circle cx="88.3" cy="260.95" r="1.75"/><circle cx="102.58" cy="256.98" r="1.75"/><circle cx="104.56" cy="257.38" r="1.75"/><circle cx="113.15" cy="256.98" r="1.75"/><circle cx="113.81" cy="260.95" r="1.75"/><circle cx="67.95" cy="278.79" r="1.75"/><circle cx="68.88" cy="285.13" r="1.75"/><circle cx="56.98" cy="284.34" r="1.75"/><circle cx="73.5" cy="286.06" r="1.75"/><circle cx="76.15" cy="287.78" r="1.75"/><circle cx="85.4" cy="277.47" r="1.75"/><circle cx="88.04" cy="274.16" r="1.75"/><circle cx="91.34" cy="273.5" r="1.75"/><circle cx="92.67" cy="276.81" r="1.75"/><circle cx="94.65" cy="276.15" r="1.75"/><circle cx="95.97" cy="274.16" r="1.75"/><circle cx="99.93" cy="274.82" r="1.75"/><circle cx="102.58" cy="277.47" r="1.75"/><circle cx="103.9" cy="274.82" r="1.75"/><circle cx="105.88" cy="272.18" r="1.75"/><circle cx="108.52" cy="269.54" r="1.75"/><circle cx="110.51" cy="272.84" r="1.75"/><circle cx="113.15" cy="269.54" r="1.75"/><circle cx="98.61" cy="282.75" r="1.75"/><circle cx="99.27" cy="286.45" r="1.75"/><circle cx="90.68" cy="286.06" r="1.75"/><circle cx="92.67" cy="286.72" r="1.75"/><circle cx="94.65" cy="285.4" r="1.75"/><circle cx="88.7" cy="282.75" r="1.75"/><circle cx="85.4" cy="282.75" r="1.75"/><circle cx="83.41" cy="284.74" r="1.75"/><circle cx="82.09" cy="287.38" r="1.75"/><circle cx="79.45" cy="288.04" r="1.75"/><circle cx="78.13" cy="291.34" r="1.75"/><circle cx="81.43" cy="294.65" r="1.75"/><circle cx="84.07" cy="293.33" r="1.75"/><circle cx="86.72" cy="290.68" r="1.75"/><circle cx="89.36" cy="291.34" r="1.75"/><circle cx="91.34" cy="292.67" r="1.75"/><circle cx="93.33" cy="294.65" r="1.75"/><circle cx="102.84" cy="290.68" r="1.75"/><circle cx="69.54" cy="290.68" r="1.75"/><circle cx="67.56" cy="292" r="1.75"/><circle cx="65.57" cy="293.99" r="1.75"/><circle cx="77.47" cy="297.29" r="1.75"/><circle cx="80.11" cy="297.29" r="1.75"/><circle cx="113.81" cy="280.11" r="1.75"/><circle cx="107.2" cy="280.11" r="1.75"/><circle cx="115.48" cy="235.31" r="1.75"/><circle cx="143.63" cy="227.38" r="1.75"/><circle cx="146.28" cy="235.84" r="1.75"/><circle cx="150.51" cy="234.25" r="1.75"/><circle cx="153.15" cy="235.84" r="1.75"/><circle cx="154.47" cy="244.16" r="1.75"/><circle cx="154.47" cy="252.75" r="1.75"/><circle cx="127.38" cy="245.09" r="1.75"/><circle cx="127.78" cy="248.52" r="1.75"/><circle cx="132" cy="249.45" r="1.75"/><circle cx="133.99" cy="249.45" r="1.75"/><circle cx="135.97" cy="249.45" r="1.75"/><circle cx="137.56" cy="245.48" r="1.75"/><circle cx="137.95" cy="249.45" r="1.75"/><circle cx="138.61" cy="252.75" r="1.75"/><circle cx="143.24" cy="250.77" r="1.75"/><circle cx="145.22" cy="246.81" r="1.75"/><circle cx="123.41" cy="252.49" r="1.75"/><circle cx="112.84" cy="254.07" r="1.75"/><circle cx="116.15" cy="255.66" r="1.75"/><circle cx="118.13" cy="255.66" r="1.75"/><circle cx="120.11" cy="256.06" r="1.75"/><circle cx="123.41" cy="256.72" r="1.75"/><circle cx="126.06" cy="256.72" r="1.75"/><circle cx="120.77" cy="260.68" r="1.75"/><circle cx="123.41" cy="260.02" r="1.75"/><circle cx="147.86" cy="263.59" r="1.75"/><circle cx="127.38" cy="267.03" r="1.75"/><circle cx="129.36" cy="267.56" r="1.75"/><circle cx="120.11" cy="268.35" r="1.75"/><circle cx="145.22" cy="269.27" r="1.75"/><circle cx="193.41" cy="209.16" r="1.75"/><circle cx="193.81" cy="221.72" r="1.75"/><circle cx="168.3" cy="221.72" r="1.75"/><circle cx="160.77" cy="228.59" r="1.75"/><circle cx="160.77" cy="232.03" r="1.75"/><circle cx="154.82" cy="233.88" r="1.75"/><circle cx="179.27" cy="234.93" r="1.75"/><circle cx="198.52" cy="209.38" r="1.75"/><circle cx="205.07" cy="209.38" r="1.75"/><circle cx="196.95" cy="227.31" r="1.75"/><circle cx="164.6" cy="235.79" r="1.75"/><circle cx="186.41" cy="240.88" r="1.75"/><circle cx="165.81" cy="243.06" r="1.75"/><circle cx="160.61" cy="235.43" r="1.75"/><circle cx="158.5" cy="244.56" r="1.75"/><circle cx="159.56" cy="247.2" r="1.75"/><circle cx="156.12" cy="252.88" r="1.75"/><circle cx="151.89" cy="271.12" r="1.75"/><circle cx="106.23" cy="273.99" r="1.75"/><circle cx="108.22" cy="271.61" r="1.75"/><circle cx="118.13" cy="271.61" r="1.75"/><circle cx="118.79" cy="274.25" r="1.75"/><circle cx="123.02" cy="274.52" r="1.75"/><circle cx="104.91" cy="279.54" r="1.75"/><circle cx="70.6" cy="289.21" r="1.75"/><circle cx="51.7" cy="290.79" r="1.75"/></g>
<g fill="#0000ff"><circle cx="23.29" cy="332.31" r="1.75"/><circle cx="25.27" cy="331.65" r="1.75"/><circle cx="27.25" cy="331.65" r="1.75"/><circle cx="30.56" cy="327.68" r="1.75"/><circle cx="33.86" cy="319.75" r="1.75"/><circle cx="35.18" cy="315.13" r="1.75"/><circle cx="36.5" cy="317.11" r="1.75"/><circle cx="39.81" cy="319.75" r="1.75"/><circle cx="41.13" cy="317.11" r="1.75"/><circle cx="45.09" cy="316.45" r="1.75"/><circle cx="47.74" cy="315.79" r="1.75"/><circle cx="47.74" cy="319.75" r="1.75"/><circle cx="53.02" cy="311.82" r="1.75"/><circle cx="54.34" cy="303.89" r="1.75"/><circle cx="55" cy="310.5" r="1.75"/><circle cx="57.65" cy="307.2" r="1.75"/><circle cx="60.29" cy="304.56" r="1.75"/><circle cx="63.59" cy="309.18" r="1.75"/><circle cx="64.26" cy="311.16" r="1.75"/><circle cx="64.92" cy="306.54" r="1.75"/><circle cx="66.9" cy="304.56" r="1.75"/><circle cx="70.86" cy="301.91" r="1.75"/><circle cx="72.19" cy="304.56" r="1.75"/><circle cx="76.81" cy="309.18" r="1.75"/><circle cx="62.93" cy="294.64" r="1.75"/><circle cx="64.92" cy="295.96" r="1.75"/><circle cx="69.54" cy="295.3" r="1.75"/><circle cx="75.49" cy="292.66" r="1.75"/><circle cx="96.63" cy="255.66" r="1.75"/><circle cx="107.6" cy="260.95" r="1.75"/><circle cx="80.11" cy="271.92" r="1.75"/><circle cx="113.81" cy="274.82" r="1.75"/><circle cx="57.64" cy="287.38" r="1.75"/><circle cx="60.29" cy="287.38" r="1.75"/><circle cx="80.77" cy="283.41" r="1.75"/><circle cx="83.41" cy="284.07" r="1.75"/><circle cx="86.72" cy="283.41" r="1.75"/><circle cx="89.36" cy="282.75" r="1.75"/><circle cx="94.65" cy="277.47" r="1.75"/><circle cx="104.56" cy="280.11" r="1.75"/><circle cx="79.45" cy="287.38" r="1.75"/><circle cx="78.79" cy="289.36" r="1.75"/><circle cx="76.81" cy="290.68" r="1.75"/><circle cx="73.5" cy="291.34" r="1.75"/><circle cx="72.18" cy="297.95" r="1.75"/><circle cx="78.13" cy="293.33" r="1.75"/><circle cx="81.43" cy="293.33" r="1.75"/><circle cx="86.06" cy="292.67" r="1.75"/><circle cx="95.97" cy="290.68" r="1.75"/><circle cx="121.43" cy="234.25" r="1.75"/><circle cx="143.24" cy="244.16" r="1.75"/><circle cx="147.6" cy="250.77" r="1.75"/><circle cx="140.2" cy="255.66" r="1.75"/><circle cx="154.21" cy="237.56" r="1.75"/><circle cx="116.15" cy="269.27" r="1.75"/><circle cx="166.32" cy="227.27" r="1.75"/><circle cx="166.72" cy="231.63" r="1.75"/><circle cx="172.67" cy="231.63" r="1.75"/><circle cx="189.45" cy="234.93" r="1.75"/><circle cx="172.67" cy="234.67" r="1.75"/><circle cx="183.61" cy="247.2" r="1.75"/><circle cx="115.88" cy="277.16" r="1.75"/><circle cx="124.34" cy="280.59" r="1.75"/><circle cx="125.66" cy="283.24" r="1.75"/><circle cx="127.38" cy="303.59" r="1.75"/><circle cx="98.22" cy="315.51" r="1.75"/></g>
<line x1="21.6" y1="331.65" x2="207.4" y2="204.9" stroke="#f0a81c" stroke-width="1.15"/>
<rect x="25" y="189.2" width="40.5" height="21.5" fill="#fff" stroke="#9a9a9a" stroke-width="0.8"/>
<circle cx="35.45" cy="193.61" r="1.7" fill="#ff0000"/>
<line x1="26.82" x2="43.83" y1="199.95" y2="199.95" stroke="#f0aa28" stroke-width="0.95"/>
<circle cx="35.45" cy="206.61" r="1.7" fill="#0000ff"/>
<g font-size="6.01" fill="#1a1a1a" stroke="#1a1a1a" stroke-width="0.05" text-anchor="end"><text x="63.27" y="195.44" textLength="17.66" lengthAdjust="spacingAndGlyphs">Training</text><text x="62.46" y="202.21" textLength="12.35" lengthAdjust="spacingAndGlyphs">linear</text><text x="62.66" y="209.19" textLength="16.93" lengthAdjust="spacingAndGlyphs">Testing</text></g>
<rect x="150.5" y="309.5" width="27.8" height="19.8" fill="#d2d2d2"/>
<g font-size="4.9" fill="#000"><text x="152.6" y="315.96" font-weight="normal" stroke="#222" stroke-width="0.12" textLength="16.9" lengthAdjust="spacingAndGlyphs">Training</text><text x="152.6" y="321.96" font-weight="normal" stroke="#222" stroke-width="0.12" textLength="17.6" lengthAdjust="spacingAndGlyphs">R² = 0.93</text><text x="152.6" y="327.86" font-weight="bold" stroke="#000" stroke-width="0.2" textLength="21.1" lengthAdjust="spacingAndGlyphs">RMSE=5.02</text></g>
<rect x="180.1" y="309.5" width="28.6" height="19.8" fill="#d2d2d2"/>
<g font-size="4.9" fill="#000"><text x="182.2" y="315.96" font-weight="normal" stroke="#222" stroke-width="0.12" textLength="13.4" lengthAdjust="spacingAndGlyphs">Testing</text><text x="182.2" y="321.96" font-weight="normal" stroke="#222" stroke-width="0.12" textLength="14.5" lengthAdjust="spacingAndGlyphs">R² = 0.82</text><text x="182.2" y="327.86" font-weight="bold" stroke="#000" stroke-width="0.2" textLength="21.8" lengthAdjust="spacingAndGlyphs">RMSE=7.79</text></g></g>
<g id="GPR"><path d="M262.7 189.3V335.6H448.4" fill="none" stroke="#a8a8a8" stroke-width="1"/>
<path d="M262.7 335.6v-1.2M262.7 335.6h1.2M285.91 335.6v-1.2M262.7 317.31h1.2M309.12 335.6v-1.2M262.7 299.03h1.2M332.34 335.6v-1.2M262.7 280.74h1.2M355.55 335.6v-1.2M262.7 262.45h1.2M378.76 335.6v-1.2M262.7 244.16h1.2M401.98 335.6v-1.2M262.7 225.88h1.2M425.19 335.6v-1.2M262.7 207.59h1.2M448.4 335.6v-1.2M262.7 189.3h1.2" stroke="#b4b4b4" stroke-width="0.8" fill="none"/>
<g font-size="6.5" fill="#4a4a4a"><text x="261.15" y="343.9" textLength="3.1" lengthAdjust="spacingAndGlyphs">0</text><text x="257.5" y="338.15" textLength="3.1" lengthAdjust="spacingAndGlyphs">0</text><text x="282.86" y="343.9" textLength="6.1" lengthAdjust="spacingAndGlyphs">10</text><text x="254.5" y="319.86" textLength="6.1" lengthAdjust="spacingAndGlyphs">10</text><text x="306.07" y="343.9" textLength="6.1" lengthAdjust="spacingAndGlyphs">20</text><text x="254.5" y="301.58" textLength="6.1" lengthAdjust="spacingAndGlyphs">20</text><text x="329.29" y="343.9" textLength="6.1" lengthAdjust="spacingAndGlyphs">30</text><text x="254.5" y="283.29" textLength="6.1" lengthAdjust="spacingAndGlyphs">30</text><text x="352.5" y="343.9" textLength="6.1" lengthAdjust="spacingAndGlyphs">40</text><text x="254.5" y="265" textLength="6.1" lengthAdjust="spacingAndGlyphs">40</text><text x="375.71" y="343.9" textLength="6.1" lengthAdjust="spacingAndGlyphs">50</text><text x="254.5" y="246.71" textLength="6.1" lengthAdjust="spacingAndGlyphs">50</text><text x="398.93" y="343.9" textLength="6.1" lengthAdjust="spacingAndGlyphs">60</text><text x="254.5" y="228.43" textLength="6.1" lengthAdjust="spacingAndGlyphs">60</text><text x="422.14" y="343.9" textLength="6.1" lengthAdjust="spacingAndGlyphs">70</text><text x="254.5" y="210.14" textLength="6.1" lengthAdjust="spacingAndGlyphs">70</text><text x="445.35" y="343.9" textLength="6.1" lengthAdjust="spacingAndGlyphs">80</text><text x="254.5" y="191.85" textLength="6.1" lengthAdjust="spacingAndGlyphs">80</text></g>
<text x="355.55" y="353.6" font-size="8.0" text-anchor="middle" fill="#111" stroke="#111" stroke-width="0.12">Actual Compressive Strength (MPa)</text>
<text transform="translate(250.3 262.45) rotate(-90)" font-size="8.0" text-anchor="middle" fill="#111" stroke="#111" stroke-width="0.12">Predicted Compressive Strength (MPa)</text>
<text x="343.45" y="188" font-size="8.2" font-weight="bold" fill="#000" textLength="15.9" lengthAdjust="spacingAndGlyphs">GPR</text>
<g fill="#ff0000"><circle cx="353" cy="260.87" r="1.75"/><circle cx="327.49" cy="282.96" r="1.75"/><circle cx="330.04" cy="282.87" r="1.75"/><circle cx="342.89" cy="270.92" r="1.75"/><circle cx="317.63" cy="292.55" r="1.75"/><circle cx="321.06" cy="286.53" r="1.75"/><circle cx="316.59" cy="293.14" r="1.75"/><circle cx="351.62" cy="266.36" r="1.75"/><circle cx="342.15" cy="273.71" r="1.75"/><circle cx="265.48" cy="334.15" r="1.75"/><circle cx="269.94" cy="328.61" r="1.75"/><circle cx="265.98" cy="330.57" r="1.75"/><circle cx="265.25" cy="332.21" r="1.75"/><circle cx="312.35" cy="296.18" r="1.75"/><circle cx="275.42" cy="324.38" r="1.75"/><circle cx="277.66" cy="324.41" r="1.75"/><circle cx="327.31" cy="283.4" r="1.75"/><circle cx="360.68" cy="259.13" r="1.75"/><circle cx="321.64" cy="286.87" r="1.75"/><circle cx="345.48" cy="271.53" r="1.75"/><circle cx="359.8" cy="258.95" r="1.75"/><circle cx="272.35" cy="325.65" r="1.75"/><circle cx="289.15" cy="316.35" r="1.75"/><circle cx="293.92" cy="309.48" r="1.75"/><circle cx="325.7" cy="284.8" r="1.75"/><circle cx="304.1" cy="299.1" r="1.75"/><circle cx="360.72" cy="259.61" r="1.75"/><circle cx="299.11" cy="303.98" r="1.75"/><circle cx="336.75" cy="275.84" r="1.75"/><circle cx="263.5" cy="334.65" r="1.75"/><circle cx="284.09" cy="320.48" r="1.75"/><circle cx="298.72" cy="307.09" r="1.75"/><circle cx="359.84" cy="261.65" r="1.75"/><circle cx="278.94" cy="320.25" r="1.75"/><circle cx="329.78" cy="281.17" r="1.75"/><circle cx="334.03" cy="276.92" r="1.75"/><circle cx="295.69" cy="308.81" r="1.75"/><circle cx="361.01" cy="257.77" r="1.75"/><circle cx="365.9" cy="254.7" r="1.75"/><circle cx="313.26" cy="294.97" r="1.75"/><circle cx="331.14" cy="280.38" r="1.75"/><circle cx="351.27" cy="264.95" r="1.75"/><circle cx="337.7" cy="276.45" r="1.75"/><circle cx="274.24" cy="325.73" r="1.75"/><circle cx="364.76" cy="255.77" r="1.75"/><circle cx="318.31" cy="290.4" r="1.75"/><circle cx="337.61" cy="278.42" r="1.75"/><circle cx="267.17" cy="331.43" r="1.75"/><circle cx="343.77" cy="267.73" r="1.75"/><circle cx="302.23" cy="302.84" r="1.75"/><circle cx="290.85" cy="312.81" r="1.75"/><circle cx="322.88" cy="289.84" r="1.75"/><circle cx="311.26" cy="297.03" r="1.75"/><circle cx="348.36" cy="267.58" r="1.75"/><circle cx="319.89" cy="291.74" r="1.75"/><circle cx="284.68" cy="316.96" r="1.75"/><circle cx="348.8" cy="269.02" r="1.75"/><circle cx="331.64" cy="280.98" r="1.75"/><circle cx="314.87" cy="293.62" r="1.75"/><circle cx="322.12" cy="287.49" r="1.75"/><circle cx="322.44" cy="287.37" r="1.75"/><circle cx="294.58" cy="310.44" r="1.75"/><circle cx="324.99" cy="284.27" r="1.75"/><circle cx="277.39" cy="324.47" r="1.75"/><circle cx="331.17" cy="280.36" r="1.75"/><circle cx="354.77" cy="262.39" r="1.75"/><circle cx="311.41" cy="298.17" r="1.75"/><circle cx="327.66" cy="282.06" r="1.75"/><circle cx="331.1" cy="281.47" r="1.75"/><circle cx="311.9" cy="295.05" r="1.75"/><circle cx="314.23" cy="293.42" r="1.75"/><circle cx="327.64" cy="281.51" r="1.75"/><circle cx="366.65" cy="250.3" r="1.75"/><circle cx="318.94" cy="290.6" r="1.75"/><circle cx="336.21" cy="275.8" r="1.75"/><circle cx="323.03" cy="288.52" r="1.75"/><circle cx="271.78" cy="326.65" r="1.75"/><circle cx="286.37" cy="318.81" r="1.75"/><circle cx="312.14" cy="293.88" r="1.75"/><circle cx="277.03" cy="324.42" r="1.75"/><circle cx="350.78" cy="265.98" r="1.75"/><circle cx="347.1" cy="267.92" r="1.75"/><circle cx="305.82" cy="298.17" r="1.75"/><circle cx="363.88" cy="256.68" r="1.75"/><circle cx="305.14" cy="300.94" r="1.75"/><circle cx="318.7" cy="293.24" r="1.75"/><circle cx="298.9" cy="305.01" r="1.75"/><circle cx="341.55" cy="272.86" r="1.75"/><circle cx="351.19" cy="267.51" r="1.75"/><circle cx="346.15" cy="268.96" r="1.75"/><circle cx="327.44" cy="284.28" r="1.75"/><circle cx="281.24" cy="321.24" r="1.75"/><circle cx="342.64" cy="273.05" r="1.75"/><circle cx="356.25" cy="262.35" r="1.75"/><circle cx="362.14" cy="254.53" r="1.75"/><circle cx="328" cy="282.65" r="1.75"/><circle cx="335.07" cy="276.65" r="1.75"/><circle cx="346.59" cy="269.85" r="1.75"/><circle cx="275.05" cy="322.79" r="1.75"/><circle cx="316.56" cy="291.21" r="1.75"/><circle cx="377.23" cy="244.04" r="1.75"/><circle cx="389.66" cy="238.32" r="1.75"/><circle cx="390.98" cy="234.07" r="1.75"/><circle cx="385.86" cy="238.4" r="1.75"/><circle cx="388.75" cy="237.68" r="1.75"/><circle cx="368.57" cy="251.85" r="1.75"/><circle cx="409.27" cy="222.2" r="1.75"/><circle cx="398.38" cy="227.55" r="1.75"/><circle cx="395.55" cy="231.05" r="1.75"/><circle cx="385.24" cy="234.87" r="1.75"/><circle cx="398.37" cy="225.7" r="1.75"/><circle cx="403.67" cy="224.14" r="1.75"/><circle cx="406.62" cy="222.57" r="1.75"/><circle cx="384.39" cy="238.93" r="1.75"/><circle cx="382.81" cy="243.62" r="1.75"/><circle cx="406.04" cy="221.51" r="1.75"/><circle cx="374.03" cy="249.14" r="1.75"/><circle cx="272.16" cy="320.81" r="1.75"/><circle cx="306.92" cy="306.54" r="1.75"/><circle cx="297.67" cy="302.57" r="1.75"/><circle cx="291.45" cy="309.18" r="1.75"/><circle cx="275.86" cy="329" r="1.75"/><circle cx="263.96" cy="332.31" r="1.75"/><circle cx="266.61" cy="330.33" r="1.75"/><circle cx="268.59" cy="327.68" r="1.75"/><circle cx="270.57" cy="327.02" r="1.75"/><circle cx="273.22" cy="325.7" r="1.75"/><circle cx="284.45" cy="316.45" r="1.75"/><circle cx="287.75" cy="313.81" r="1.75"/><circle cx="289.74" cy="311.82" r="1.75"/><circle cx="292.38" cy="313.15" r="1.75"/><circle cx="295.68" cy="306.54" r="1.75"/><circle cx="298.33" cy="304.56" r="1.75"/><circle cx="299.65" cy="305.88" r="1.75"/><circle cx="302.29" cy="303.89" r="1.75"/><circle cx="306.26" cy="301.91" r="1.75"/><circle cx="308.9" cy="297.29" r="1.75"/><circle cx="310.88" cy="295.96" r="1.75"/><circle cx="312.86" cy="294.64" r="1.75"/><circle cx="314.85" cy="297.95" r="1.75"/><circle cx="329.34" cy="276.81" r="1.75"/><circle cx="353.52" cy="257.64" r="1.75"/><circle cx="306.61" cy="297.29" r="1.75"/><circle cx="314.54" cy="290.68" r="1.75"/><circle cx="318.5" cy="289.36" r="1.75"/><circle cx="323.13" cy="286.72" r="1.75"/><circle cx="325.11" cy="285.4" r="1.75"/><circle cx="328.41" cy="282.75" r="1.75"/><circle cx="331.72" cy="280.77" r="1.75"/><circle cx="334.36" cy="279.45" r="1.75"/><circle cx="336.34" cy="272.18" r="1.75"/><circle cx="338.33" cy="273.5" r="1.75"/><circle cx="339.65" cy="278.13" r="1.75"/><circle cx="343.61" cy="268.88" r="1.75"/><circle cx="345.59" cy="268.22" r="1.75"/><circle cx="347.58" cy="266.23" r="1.75"/><circle cx="350.22" cy="267.56" r="1.75"/><circle cx="352.2" cy="264.25" r="1.75"/><circle cx="356.83" cy="260.95" r="1.75"/><circle cx="358.81" cy="258.96" r="1.75"/><circle cx="348.9" cy="272.18" r="1.75"/><circle cx="356.52" cy="236.12" r="1.75"/><circle cx="359.82" cy="256.34" r="1.75"/><circle cx="361.15" cy="260.97" r="1.75"/><circle cx="363.13" cy="255.02" r="1.75"/><circle cx="366.43" cy="254.36" r="1.75"/><circle cx="368.41" cy="248.41" r="1.75"/><circle cx="369.74" cy="253.7" r="1.75"/><circle cx="372.38" cy="246.43" r="1.75"/><circle cx="374.36" cy="245.77" r="1.75"/><circle cx="376.34" cy="244.45" r="1.75"/><circle cx="378.33" cy="242.47" r="1.75"/><circle cx="384.27" cy="237.18" r="1.75"/><circle cx="386.26" cy="233.88" r="1.75"/><circle cx="386.26" cy="242.47" r="1.75"/><circle cx="388.9" cy="239.82" r="1.75"/><circle cx="392.2" cy="233.22" r="1.75"/><circle cx="394.19" cy="235.2" r="1.75"/><circle cx="396.17" cy="231.23" r="1.75"/><circle cx="398.81" cy="227.93" r="1.75"/><circle cx="358.5" cy="262.29" r="1.75"/><circle cx="446.28" cy="191.87" r="1.75"/><circle cx="439.41" cy="197.17" r="1.75"/><circle cx="437.97" cy="198.6" r="1.75"/><circle cx="435.83" cy="200.03" r="1.75"/><circle cx="434.39" cy="201.46" r="1.75"/><circle cx="427.67" cy="209.05" r="1.75"/><circle cx="413.63" cy="217.64" r="1.75"/><circle cx="410.06" cy="221.94" r="1.75"/><circle cx="405.76" cy="226.52" r="1.75"/><circle cx="401.04" cy="225.09" r="1.75"/><circle cx="400.75" cy="232.25" r="1.75"/><circle cx="420.51" cy="232.25" r="1.75"/><circle cx="364.82" cy="255.29" r="1.75"/><circle cx="369.45" cy="255.29" r="1.75"/><circle cx="370.11" cy="251.32" r="1.75"/><circle cx="401.66" cy="227.72" r="1.75"/></g>
<g fill="#0000ff"><circle cx="345.18" cy="272.36" r="1.75"/><circle cx="298.57" cy="306.9" r="1.75"/><circle cx="292.65" cy="311.41" r="1.75"/><circle cx="333.04" cy="278.9" r="1.75"/><circle cx="307.98" cy="299.91" r="1.75"/><circle cx="329.04" cy="283.95" r="1.75"/><circle cx="363.66" cy="254.99" r="1.75"/><circle cx="357.8" cy="263.21" r="1.75"/><circle cx="316.88" cy="291.74" r="1.75"/><circle cx="267.53" cy="333.81" r="1.75"/><circle cx="302.37" cy="307" r="1.75"/><circle cx="358.61" cy="260.52" r="1.75"/><circle cx="296.14" cy="307.09" r="1.75"/><circle cx="323.89" cy="288.44" r="1.75"/><circle cx="363.62" cy="256.43" r="1.75"/><circle cx="352.66" cy="263.96" r="1.75"/><circle cx="310.63" cy="295.58" r="1.75"/><circle cx="359.89" cy="256.85" r="1.75"/><circle cx="339.83" cy="273.65" r="1.75"/><circle cx="266.57" cy="330.9" r="1.75"/><circle cx="384.95" cy="237.61" r="1.75"/><circle cx="383.45" cy="239.48" r="1.75"/><circle cx="392.33" cy="232.29" r="1.75"/><circle cx="274.8" cy="318.43" r="1.75"/><circle cx="298.99" cy="297.95" r="1.75"/><circle cx="303.88" cy="316.05" r="1.75"/><circle cx="316.56" cy="300.99" r="1.75"/><circle cx="317.89" cy="297.29" r="1.75"/><circle cx="288.41" cy="318.43" r="1.75"/><circle cx="272.56" cy="330.33" r="1.75"/><circle cx="263.96" cy="333.63" r="1.75"/><circle cx="265.95" cy="331.65" r="1.75"/><circle cx="267.93" cy="330.99" r="1.75"/><circle cx="270.57" cy="330.33" r="1.75"/><circle cx="275.86" cy="323.72" r="1.75"/><circle cx="278.5" cy="321.74" r="1.75"/><circle cx="280.48" cy="319.75" r="1.75"/><circle cx="283.13" cy="318.43" r="1.75"/><circle cx="294.36" cy="307.86" r="1.75"/><circle cx="296.34" cy="306.54" r="1.75"/><circle cx="300.31" cy="305.22" r="1.75"/><circle cx="304.27" cy="299.93" r="1.75"/><circle cx="305.59" cy="301.91" r="1.75"/><circle cx="307.58" cy="301.25" r="1.75"/><circle cx="315.51" cy="293.98" r="1.75"/><circle cx="318.15" cy="292.66" r="1.75"/><circle cx="300.66" cy="297.95" r="1.75"/><circle cx="326.43" cy="279.45" r="1.75"/><circle cx="331.06" cy="288.7" r="1.75"/><circle cx="337" cy="292.67" r="1.75"/><circle cx="355.51" cy="270.86" r="1.75"/><circle cx="348.63" cy="263.59" r="1.75"/><circle cx="356.83" cy="264.25" r="1.75"/><circle cx="311.89" cy="294.65" r="1.75"/><circle cx="315.86" cy="287.38" r="1.75"/><circle cx="319.82" cy="293.33" r="1.75"/><circle cx="321.15" cy="286.72" r="1.75"/><circle cx="327.75" cy="284.74" r="1.75"/><circle cx="335.02" cy="274.82" r="1.75"/><circle cx="337.67" cy="274.16" r="1.75"/><circle cx="338.99" cy="279.45" r="1.75"/><circle cx="345.59" cy="272.18" r="1.75"/><circle cx="354.19" cy="262.27" r="1.75"/><circle cx="357.49" cy="258.96" r="1.75"/><circle cx="362.47" cy="238.24" r="1.75"/><circle cx="365.11" cy="258.33" r="1.75"/><circle cx="380.97" cy="247.09" r="1.75"/><circle cx="384.67" cy="239.16" r="1.75"/><circle cx="388.24" cy="237.18" r="1.75"/><circle cx="396.17" cy="233.22" r="1.75"/><circle cx="424.8" cy="214.35" r="1.75"/><circle cx="430.81" cy="211.49" r="1.75"/><circle cx="407.19" cy="221.51" r="1.75"/><circle cx="413.63" cy="220.08" r="1.75"/><circle cx="413.63" cy="224.37" r="1.75"/><circle cx="413.35" cy="231.1" r="1.75"/><circle cx="366.41" cy="276.17" r="1.75"/><circle cx="368.52" cy="284.63" r="1.75"/><circle cx="295.38" cy="285.88" r="1.75"/></g>
<line x1="262.7" y1="334.69" x2="448.4" y2="190.58" stroke="#f0a81c" stroke-width="1.15"/>
<rect x="266.3" y="189.6" width="40.7" height="21.4" fill="#fff" stroke="#9a9a9a" stroke-width="0.8"/>
<circle cx="276.8" cy="193.99" r="1.7" fill="#ff0000"/>
<line x1="268.13" x2="285.23" y1="200.3" y2="200.3" stroke="#f0aa28" stroke-width="0.95"/>
<circle cx="276.8" cy="206.93" r="1.7" fill="#0000ff"/>
<g font-size="5.98" fill="#1a1a1a" stroke="#1a1a1a" stroke-width="0.05" text-anchor="end"><text x="304.76" y="195.81" textLength="17.75" lengthAdjust="spacingAndGlyphs">Training</text><text x="303.95" y="202.55" textLength="12.41" lengthAdjust="spacingAndGlyphs">linear</text><text x="304.15" y="209.5" textLength="17.01" lengthAdjust="spacingAndGlyphs">Testing</text></g>
<rect x="393.1" y="310.5" width="26.8" height="19.5" fill="#d2d2d2"/>
<g font-size="4.9" fill="#000"><text x="395.4" y="317.36" font-weight="normal" stroke="#222" stroke-width="0.12" textLength="17.2" lengthAdjust="spacingAndGlyphs">Training</text><text x="395.4" y="322.66" font-weight="normal" stroke="#222" stroke-width="0.12" textLength="17.9" lengthAdjust="spacingAndGlyphs">R² = 0.99</text><text x="395.4" y="328.56" font-weight="bold" stroke="#000" stroke-width="0.2" textLength="21.4" lengthAdjust="spacingAndGlyphs">RMSE=1.34</text></g>
<rect x="421.3" y="310.5" width="27.2" height="19.5" fill="#d2d2d2"/>
<g font-size="4.9" fill="#000"><text x="423.8" y="317.36" font-weight="normal" stroke="#222" stroke-width="0.12" textLength="14.1" lengthAdjust="spacingAndGlyphs">Testing</text><text x="423.8" y="322.66" font-weight="normal" stroke="#222" stroke-width="0.12" textLength="15.5" lengthAdjust="spacingAndGlyphs">R² = 0.92</text><text x="423.8" y="328.56" font-weight="bold" stroke="#000" stroke-width="0.2" textLength="22.3" lengthAdjust="spacingAndGlyphs">RMSE=5.06</text></g></g>
<g id="ANN"><path d="M135.8 374.5V526.6H328.8" fill="none" stroke="#a8a8a8" stroke-width="1"/>
<path d="M135.8 526.6v-1.2M135.8 526.6h1.2M159.93 526.6v-1.2M135.8 507.59h1.2M184.05 526.6v-1.2M135.8 488.58h1.2M208.18 526.6v-1.2M135.8 469.56h1.2M232.3 526.6v-1.2M135.8 450.55h1.2M256.43 526.6v-1.2M135.8 431.54h1.2M280.55 526.6v-1.2M135.8 412.52h1.2M304.68 526.6v-1.2M135.8 393.51h1.2M328.8 526.6v-1.2M135.8 374.5h1.2" stroke="#b4b4b4" stroke-width="0.8" fill="none"/>
<g font-size="6.5" fill="#4a4a4a"><text x="134.25" y="534.9" textLength="3.1" lengthAdjust="spacingAndGlyphs">0</text><text x="130.6" y="529.15" textLength="3.1" lengthAdjust="spacingAndGlyphs">0</text><text x="156.88" y="534.9" textLength="6.1" lengthAdjust="spacingAndGlyphs">10</text><text x="127.6" y="510.14" textLength="6.1" lengthAdjust="spacingAndGlyphs">10</text><text x="181" y="534.9" textLength="6.1" lengthAdjust="spacingAndGlyphs">20</text><text x="127.6" y="491.13" textLength="6.1" lengthAdjust="spacingAndGlyphs">20</text><text x="205.12" y="534.9" textLength="6.1" lengthAdjust="spacingAndGlyphs">30</text><text x="127.6" y="472.11" textLength="6.1" lengthAdjust="spacingAndGlyphs">30</text><text x="229.25" y="534.9" textLength="6.1" lengthAdjust="spacingAndGlyphs">40</text><text x="127.6" y="453.1" textLength="6.1" lengthAdjust="spacingAndGlyphs">40</text><text x="253.38" y="534.9" textLength="6.1" lengthAdjust="spacingAndGlyphs">50</text><text x="127.6" y="434.09" textLength="6.1" lengthAdjust="spacingAndGlyphs">50</text><text x="277.5" y="534.9" textLength="6.1" lengthAdjust="spacingAndGlyphs">60</text><text x="127.6" y="415.07" textLength="6.1" lengthAdjust="spacingAndGlyphs">60</text><text x="301.62" y="534.9" textLength="6.1" lengthAdjust="spacingAndGlyphs">70</text><text x="127.6" y="396.06" textLength="6.1" lengthAdjust="spacingAndGlyphs">70</text><text x="325.75" y="534.9" textLength="6.1" lengthAdjust="spacingAndGlyphs">80</text><text x="127.6" y="377.05" textLength="6.1" lengthAdjust="spacingAndGlyphs">80</text></g>
<text x="232.3" y="544.6" font-size="8.3" text-anchor="middle" fill="#111" stroke="#111" stroke-width="0.12">Actual Compressive Strength (MPa)</text>
<text transform="translate(123.1 450.55) rotate(-90)" font-size="8.2" text-anchor="middle" fill="#111" stroke="#111" stroke-width="0.12">Predicted Compressive Strength (MPa)</text>
<text x="219.2" y="372.9" font-size="8.2" font-weight="bold" fill="#000" textLength="17.8" lengthAdjust="spacingAndGlyphs">ANN</text>
<g fill="#ff0000"><circle cx="186.74" cy="487.69" r="1.75"/><circle cx="223.44" cy="456.38" r="1.75"/><circle cx="241.27" cy="443.04" r="1.75"/><circle cx="237.11" cy="447.79" r="1.75"/><circle cx="243.29" cy="441.39" r="1.75"/><circle cx="197.85" cy="480.75" r="1.75"/><circle cx="193.02" cy="484.75" r="1.75"/><circle cx="224.28" cy="457.65" r="1.75"/><circle cx="163.73" cy="507.74" r="1.75"/><circle cx="193.31" cy="478.59" r="1.75"/><circle cx="188.16" cy="483.56" r="1.75"/><circle cx="145.26" cy="517.2" r="1.75"/><circle cx="148.57" cy="513.91" r="1.75"/><circle cx="167.72" cy="499.55" r="1.75"/><circle cx="207.86" cy="473.53" r="1.75"/><circle cx="146.43" cy="517.14" r="1.75"/><circle cx="220.52" cy="460.17" r="1.75"/><circle cx="231.59" cy="447.15" r="1.75"/><circle cx="171.49" cy="495.12" r="1.75"/><circle cx="232.23" cy="452.82" r="1.75"/><circle cx="233.56" cy="451.5" r="1.75"/><circle cx="213.78" cy="465.36" r="1.75"/><circle cx="145.25" cy="514.05" r="1.75"/><circle cx="141.06" cy="521.86" r="1.75"/><circle cx="182.36" cy="487.3" r="1.75"/><circle cx="176.1" cy="497.39" r="1.75"/><circle cx="243.61" cy="442.92" r="1.75"/><circle cx="200.74" cy="476.34" r="1.75"/><circle cx="240.94" cy="443.13" r="1.75"/><circle cx="178.47" cy="494.88" r="1.75"/><circle cx="190.31" cy="484.72" r="1.75"/><circle cx="140.86" cy="521.74" r="1.75"/><circle cx="189.33" cy="484.72" r="1.75"/><circle cx="137.56" cy="524.7" r="1.75"/><circle cx="207.99" cy="469.03" r="1.75"/><circle cx="181.6" cy="492.01" r="1.75"/><circle cx="238.59" cy="443.15" r="1.75"/><circle cx="170.82" cy="497.61" r="1.75"/><circle cx="158.27" cy="511.36" r="1.75"/><circle cx="137.26" cy="526.17" r="1.75"/><circle cx="198.54" cy="481.94" r="1.75"/><circle cx="212.13" cy="465.3" r="1.75"/><circle cx="235.27" cy="450.41" r="1.75"/><circle cx="178.32" cy="495.77" r="1.75"/><circle cx="144.42" cy="520.65" r="1.75"/><circle cx="145.43" cy="515.49" r="1.75"/><circle cx="173.95" cy="498.71" r="1.75"/><circle cx="195.42" cy="477.42" r="1.75"/><circle cx="162.03" cy="506.68" r="1.75"/><circle cx="143.87" cy="517.4" r="1.75"/><circle cx="201.8" cy="473.47" r="1.75"/><circle cx="199.76" cy="478.68" r="1.75"/><circle cx="185.66" cy="484.48" r="1.75"/><circle cx="202.4" cy="474.78" r="1.75"/><circle cx="199.48" cy="477.14" r="1.75"/><circle cx="169.65" cy="498.87" r="1.75"/><circle cx="198.01" cy="476.38" r="1.75"/><circle cx="234.61" cy="452.34" r="1.75"/><circle cx="238.46" cy="448.62" r="1.75"/><circle cx="145.76" cy="515.27" r="1.75"/><circle cx="223.55" cy="458.14" r="1.75"/><circle cx="185.44" cy="486.14" r="1.75"/><circle cx="240.95" cy="440.85" r="1.75"/><circle cx="164.16" cy="504.47" r="1.75"/><circle cx="150.37" cy="514.24" r="1.75"/><circle cx="148.34" cy="518.27" r="1.75"/><circle cx="153.47" cy="510.75" r="1.75"/><circle cx="187.73" cy="487.38" r="1.75"/><circle cx="173.95" cy="496.76" r="1.75"/><circle cx="188.57" cy="485.87" r="1.75"/><circle cx="240.5" cy="447.29" r="1.75"/><circle cx="239.49" cy="441.76" r="1.75"/><circle cx="221.02" cy="456.21" r="1.75"/><circle cx="244.33" cy="439.91" r="1.75"/><circle cx="203.68" cy="475.04" r="1.75"/><circle cx="195.02" cy="479.81" r="1.75"/><circle cx="174.81" cy="495.47" r="1.75"/><circle cx="179.91" cy="490.9" r="1.75"/><circle cx="233.67" cy="448.23" r="1.75"/><circle cx="213.28" cy="467.63" r="1.75"/><circle cx="191.06" cy="482.04" r="1.75"/><circle cx="179.76" cy="492.17" r="1.75"/><circle cx="185.2" cy="484.3" r="1.75"/><circle cx="233.78" cy="452.28" r="1.75"/><circle cx="227.09" cy="457.31" r="1.75"/><circle cx="185.28" cy="491.06" r="1.75"/><circle cx="215.79" cy="460.16" r="1.75"/><circle cx="175.49" cy="496.29" r="1.75"/><circle cx="150" cy="515.99" r="1.75"/><circle cx="175.96" cy="494.78" r="1.75"/><circle cx="213.13" cy="466.02" r="1.75"/><circle cx="252.95" cy="438.63" r="1.75"/><circle cx="255.58" cy="432.74" r="1.75"/><circle cx="261.72" cy="428.94" r="1.75"/><circle cx="258.1" cy="431.84" r="1.75"/><circle cx="270.43" cy="417.37" r="1.75"/><circle cx="251.92" cy="431.43" r="1.75"/><circle cx="276.96" cy="413.85" r="1.75"/><circle cx="262.45" cy="424.37" r="1.75"/><circle cx="248.74" cy="439.53" r="1.75"/><circle cx="258.01" cy="429.34" r="1.75"/><circle cx="261.41" cy="430" r="1.75"/><circle cx="280.84" cy="412.05" r="1.75"/><circle cx="277.33" cy="415" r="1.75"/><circle cx="145.56" cy="505.11" r="1.75"/><circle cx="181.9" cy="501.41" r="1.75"/><circle cx="171.99" cy="486.34" r="1.75"/><circle cx="149.92" cy="520.97" r="1.75"/><circle cx="136.96" cy="522.95" r="1.75"/><circle cx="138.95" cy="520.97" r="1.75"/><circle cx="140.93" cy="518.99" r="1.75"/><circle cx="142.91" cy="517.67" r="1.75"/><circle cx="144.89" cy="515.02" r="1.75"/><circle cx="151.5" cy="514.36" r="1.75"/><circle cx="154.15" cy="513.04" r="1.75"/><circle cx="156.13" cy="512.38" r="1.75"/><circle cx="158.11" cy="510.4" r="1.75"/><circle cx="159.43" cy="502.47" r="1.75"/><circle cx="161.41" cy="502.2" r="1.75"/><circle cx="164.06" cy="503.79" r="1.75"/><circle cx="165.38" cy="497.18" r="1.75"/><circle cx="164.72" cy="501.81" r="1.75"/><circle cx="168.68" cy="495.59" r="1.75"/><circle cx="169.34" cy="497.84" r="1.75"/><circle cx="172.65" cy="495.2" r="1.75"/><circle cx="177.93" cy="494.54" r="1.75"/><circle cx="180.58" cy="491.23" r="1.75"/><circle cx="183.88" cy="484.63" r="1.75"/><circle cx="185.2" cy="482.64" r="1.75"/><circle cx="187.19" cy="485.95" r="1.75"/><circle cx="188.51" cy="483.96" r="1.75"/><circle cx="140.27" cy="522.95" r="1.75"/><circle cx="142.91" cy="522.29" r="1.75"/><circle cx="205.04" cy="460.95" r="1.75"/><circle cx="189.84" cy="476.41" r="1.75"/><circle cx="175.96" cy="492.27" r="1.75"/><circle cx="182.57" cy="486.33" r="1.75"/><circle cx="189.18" cy="487.65" r="1.75"/><circle cx="193.15" cy="479.72" r="1.75"/><circle cx="196.45" cy="481.04" r="1.75"/><circle cx="199.09" cy="479.06" r="1.75"/><circle cx="200.41" cy="476.41" r="1.75"/><circle cx="201.74" cy="478.4" r="1.75"/><circle cx="203.72" cy="477.74" r="1.75"/><circle cx="203.72" cy="471.13" r="1.75"/><circle cx="205.7" cy="469.15" r="1.75"/><circle cx="207.68" cy="467.82" r="1.75"/><circle cx="209.67" cy="467.16" r="1.75"/><circle cx="210.33" cy="471.13" r="1.75"/><circle cx="214.29" cy="463.86" r="1.75"/><circle cx="216.93" cy="461.22" r="1.75"/><circle cx="218.26" cy="465.18" r="1.75"/><circle cx="220.24" cy="457.91" r="1.75"/><circle cx="221.56" cy="463.86" r="1.75"/><circle cx="222.88" cy="453.29" r="1.75"/><circle cx="225.52" cy="461.22" r="1.75"/><circle cx="226.19" cy="451.96" r="1.75"/><circle cx="227.51" cy="450.64" r="1.75"/><circle cx="228.83" cy="456.59" r="1.75"/><circle cx="230.81" cy="452.63" r="1.75"/><circle cx="233.41" cy="413.06" r="1.75"/><circle cx="230.5" cy="433.41" r="1.75"/><circle cx="246.1" cy="427.2" r="1.75"/><circle cx="231.82" cy="450.33" r="1.75"/><circle cx="234.47" cy="447.68" r="1.75"/><circle cx="237.11" cy="445.04" r="1.75"/><circle cx="238.43" cy="443.06" r="1.75"/><circle cx="240.41" cy="443.72" r="1.75"/><circle cx="242.4" cy="443.06" r="1.75"/><circle cx="244.38" cy="445.04" r="1.75"/><circle cx="247.02" cy="446.36" r="1.75"/><circle cx="249" cy="439.75" r="1.75"/><circle cx="250.33" cy="436.45" r="1.75"/><circle cx="250.99" cy="430.5" r="1.75"/><circle cx="254.29" cy="432.48" r="1.75"/><circle cx="256.27" cy="429.84" r="1.75"/><circle cx="262.22" cy="428.52" r="1.75"/><circle cx="264.2" cy="433.41" r="1.75"/><circle cx="264.86" cy="420.59" r="1.75"/><circle cx="267.51" cy="425.22" r="1.75"/><circle cx="270.15" cy="419.93" r="1.75"/><circle cx="239.09" cy="454.29" r="1.75"/><circle cx="235.13" cy="451.65" r="1.75"/><circle cx="314.21" cy="386.63" r="1.75"/><circle cx="307.2" cy="396.41" r="1.75"/><circle cx="299.93" cy="412.67" r="1.75"/><circle cx="292.67" cy="403.02" r="1.75"/><circle cx="288.7" cy="409.36" r="1.75"/><circle cx="280.77" cy="412.67" r="1.75"/><circle cx="278.79" cy="414.65" r="1.75"/><circle cx="276.81" cy="417.29" r="1.75"/><circle cx="274.82" cy="417.95" r="1.75"/><circle cx="280.11" cy="421.26" r="1.75"/><circle cx="284.07" cy="420.59" r="1.75"/><circle cx="326.48" cy="377.12" r="1.75"/><circle cx="315.77" cy="385.84" r="1.75"/><circle cx="317.26" cy="384.85" r="1.75"/><circle cx="318.74" cy="383.86" r="1.75"/><circle cx="320.23" cy="382.87" r="1.75"/><circle cx="238.22" cy="452.56" r="1.75"/><circle cx="240.86" cy="445.95" r="1.75"/><circle cx="246.15" cy="443.96" r="1.75"/><circle cx="273.01" cy="426.01" r="1.75"/><circle cx="280.94" cy="421.17" r="1.75"/></g>
<g fill="#0000ff"><circle cx="235.67" cy="448.81" r="1.75"/><circle cx="211.58" cy="472.02" r="1.75"/><circle cx="179.8" cy="493.4" r="1.75"/><circle cx="162.65" cy="505.92" r="1.75"/><circle cx="145.81" cy="516.69" r="1.75"/><circle cx="176.53" cy="497.33" r="1.75"/><circle cx="172.57" cy="495.11" r="1.75"/><circle cx="161.47" cy="503.5" r="1.75"/><circle cx="201.46" cy="472.7" r="1.75"/><circle cx="178.22" cy="491.13" r="1.75"/><circle cx="231.25" cy="451.5" r="1.75"/><circle cx="243.12" cy="444.09" r="1.75"/><circle cx="191.23" cy="485.67" r="1.75"/><circle cx="194.98" cy="477.85" r="1.75"/><circle cx="204.28" cy="471.77" r="1.75"/><circle cx="158.94" cy="507.87" r="1.75"/><circle cx="232.94" cy="452.54" r="1.75"/><circle cx="205.42" cy="474.17" r="1.75"/><circle cx="183.16" cy="486.32" r="1.75"/><circle cx="188.69" cy="481.65" r="1.75"/><circle cx="216.41" cy="462.25" r="1.75"/><circle cx="195.94" cy="475.66" r="1.75"/><circle cx="139.32" cy="522.91" r="1.75"/><circle cx="209.7" cy="469.95" r="1.75"/><circle cx="165" cy="508.49" r="1.75"/><circle cx="167.36" cy="501.53" r="1.75"/><circle cx="206.43" cy="470.73" r="1.75"/><circle cx="187.69" cy="484.32" r="1.75"/><circle cx="161.39" cy="506.55" r="1.75"/><circle cx="276.83" cy="417.96" r="1.75"/><circle cx="280.59" cy="414.19" r="1.75"/><circle cx="178.59" cy="509.34" r="1.75"/><circle cx="148.2" cy="509.07" r="1.75"/><circle cx="149.92" cy="509.34" r="1.75"/><circle cx="162.74" cy="508.41" r="1.75"/><circle cx="173.7" cy="488.19" r="1.75"/><circle cx="145.56" cy="522.29" r="1.75"/><circle cx="191.15" cy="489.91" r="1.75"/><circle cx="191.81" cy="492.56" r="1.75"/><circle cx="136.3" cy="523.61" r="1.75"/><circle cx="138.29" cy="522.29" r="1.75"/><circle cx="144.23" cy="520.97" r="1.75"/><circle cx="150.18" cy="511.72" r="1.75"/><circle cx="153.48" cy="511.06" r="1.75"/><circle cx="155.47" cy="511.72" r="1.75"/><circle cx="160.75" cy="505.77" r="1.75"/><circle cx="166.7" cy="499.82" r="1.75"/><circle cx="169.34" cy="499.82" r="1.75"/><circle cx="172.65" cy="494.54" r="1.75"/><circle cx="175.29" cy="493.22" r="1.75"/><circle cx="178.59" cy="487.93" r="1.75"/><circle cx="179.92" cy="491.89" r="1.75"/><circle cx="181.24" cy="489.91" r="1.75"/><circle cx="183.22" cy="492.56" r="1.75"/><circle cx="185.2" cy="487.93" r="1.75"/><circle cx="189.83" cy="482.64" r="1.75"/><circle cx="191.81" cy="481.32" r="1.75"/><circle cx="202.4" cy="467.82" r="1.75"/><circle cx="215.61" cy="471.13" r="1.75"/><circle cx="207.02" cy="475.75" r="1.75"/><circle cx="184.56" cy="490.29" r="1.75"/><circle cx="186.54" cy="483.68" r="1.75"/><circle cx="191.82" cy="479.06" r="1.75"/><circle cx="193.81" cy="477.74" r="1.75"/><circle cx="195.79" cy="474.43" r="1.75"/><circle cx="196.45" cy="483.68" r="1.75"/><circle cx="198.43" cy="476.41" r="1.75"/><circle cx="210.33" cy="467.82" r="1.75"/><circle cx="211.65" cy="461.88" r="1.75"/><circle cx="213.63" cy="459.89" r="1.75"/><circle cx="222.22" cy="461.22" r="1.75"/><circle cx="225.52" cy="448.66" r="1.75"/><circle cx="231.47" cy="459.23" r="1.75"/><circle cx="239.49" cy="426.27" r="1.75"/><circle cx="233.41" cy="444.38" r="1.75"/><circle cx="242.66" cy="447.95" r="1.75"/><circle cx="233.15" cy="454.95" r="1.75"/><circle cx="258.92" cy="432.88" r="1.75"/><circle cx="262.48" cy="424.95" r="1.75"/><circle cx="266.19" cy="423.23" r="1.75"/><circle cx="304.56" cy="398.52" r="1.75"/><circle cx="292.67" cy="403.41" r="1.75"/><circle cx="286.45" cy="407.78" r="1.75"/><circle cx="292.67" cy="414.65" r="1.75"/><circle cx="310.51" cy="410.02" r="1.75"/><circle cx="243.5" cy="467.75" r="1.75"/><circle cx="245.88" cy="470.13" r="1.75"/><circle cx="213.04" cy="498.41" r="1.75"/><circle cx="180.66" cy="508.99" r="1.75"/><circle cx="169.87" cy="475.33" r="1.75"/><circle cx="274.78" cy="425.75" r="1.75"/><circle cx="292.4" cy="416.32" r="1.75"/></g>
<line x1="135.8" y1="525.84" x2="328.8" y2="377.16" stroke="#f0a81c" stroke-width="1.15"/>
<rect x="139" y="374.6" width="41.9" height="21.8" fill="#fff" stroke="#9a9a9a" stroke-width="0.8"/>
<circle cx="149.81" cy="379.07" r="1.7" fill="#ff0000"/>
<line x1="140.89" x2="158.48" y1="385.5" y2="385.5" stroke="#f0aa28" stroke-width="0.95"/>
<circle cx="149.81" cy="392.26" r="1.7" fill="#0000ff"/>
<g font-size="6.09" fill="#1a1a1a" stroke="#1a1a1a" stroke-width="0.05" text-anchor="end"><text x="178.6" y="380.92" textLength="18.27" lengthAdjust="spacingAndGlyphs">Training</text><text x="177.76" y="387.79" textLength="12.78" lengthAdjust="spacingAndGlyphs">linear</text><text x="177.97" y="394.87" textLength="17.51" lengthAdjust="spacingAndGlyphs">Testing</text></g>
<rect x="267.4" y="499.9" width="30.5" height="21.1" fill="#d2d2d2"/>
<g font-size="5.1" fill="#000"><text x="270.5" y="506.74" font-weight="normal" stroke="#222" stroke-width="0.12" textLength="18.2" lengthAdjust="spacingAndGlyphs">Training</text><text x="270.5" y="512.54" font-weight="normal" stroke="#222" stroke-width="0.12" textLength="18.2" lengthAdjust="spacingAndGlyphs">R² = 0.98</text><text x="270.5" y="518.24" font-weight="bold" stroke="#000" stroke-width="0.2" textLength="22.8" lengthAdjust="spacingAndGlyphs">RMSE= 2.62</text></g>
<rect x="300.2" y="499.9" width="30.4" height="21.1" fill="#d2d2d2"/>
<g font-size="5.1" fill="#000"><text x="302.5" y="506.74" font-weight="normal" stroke="#222" stroke-width="0.12" textLength="14.6" lengthAdjust="spacingAndGlyphs">Testing</text><text x="302.5" y="512.54" font-weight="normal" stroke="#222" stroke-width="0.12" textLength="15.4" lengthAdjust="spacingAndGlyphs">R² = 0.90</text><text x="302.5" y="518.24" font-weight="bold" stroke="#000" stroke-width="0.2" textLength="23.1" lengthAdjust="spacingAndGlyphs">RMSE= 8.40</text></g></g>
</svg></body></html>
